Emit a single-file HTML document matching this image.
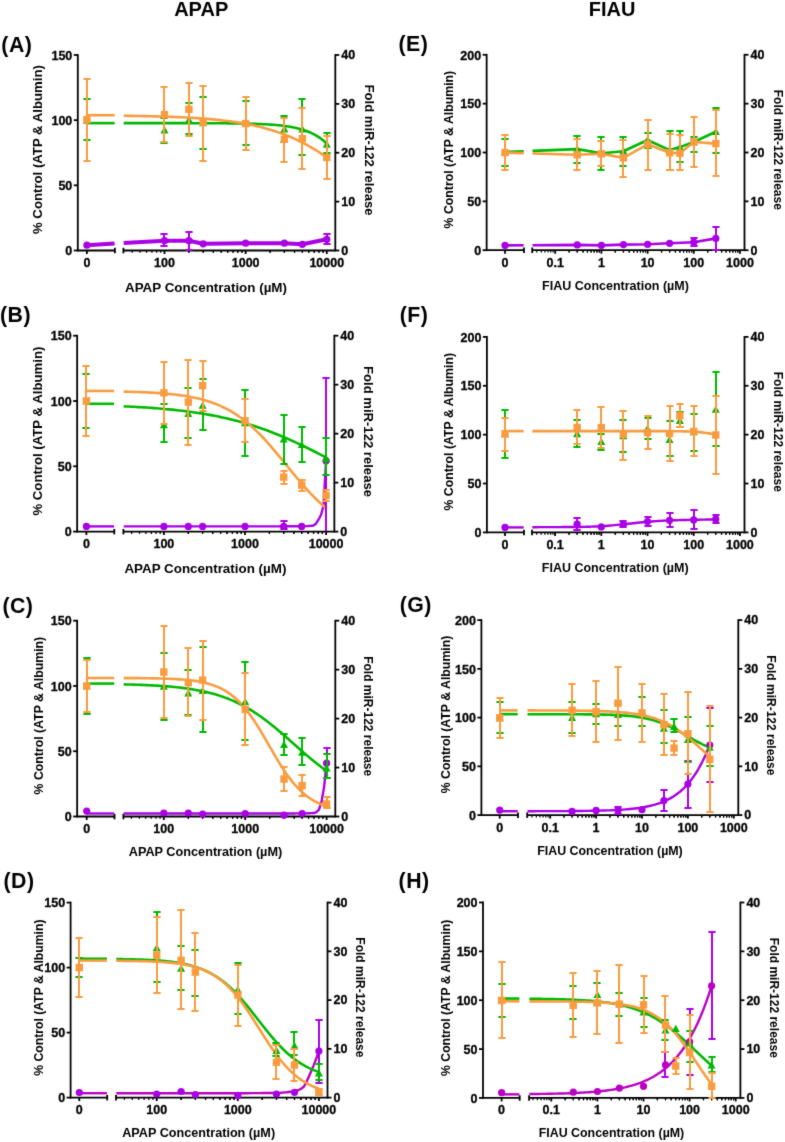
<!DOCTYPE html>
<html><head><meta charset="utf-8"><style>
html,body{margin:0;padding:0;background:#fff;}
body{width:785px;height:1142px;overflow:hidden;}
svg{display:block;}
text{font-family:"Liberation Sans",sans-serif;font-weight:bold;fill:#000;}
.t{stroke:#000;stroke-width:0.3px;}
svg{will-change:transform;}
.t{font-size:12.5px;}
.yl{font-size:13px;}
.xl{font-size:13.4px;}
.pl{font-size:21.3px;letter-spacing:0.5px;}
.ti{font-size:20px;}
</style></head><body>
<svg width="785" height="1142" viewBox="0 0 785 1142">
<defs><filter id="bl" x="0" y="0" width="785" height="1142" filterUnits="userSpaceOnUse" color-interpolation-filters="sRGB"><feConvolveMatrix order="3" kernelMatrix="0.03 0.12 0.03 0.12 1 0.12 0.03 0.12 0.03" edgeMode="duplicate" preserveAlpha="true"/></filter></defs>
<g filter="url(#bl)">
<rect width="785" height="1142" fill="#fff"/>
<text x="201.2" y="15.9" text-anchor="middle" class="ti">APAP</text>
<text x="612.1" y="16" text-anchor="middle" class="ti">FIAU</text>
<line x1="77.8" y1="54.1" x2="77.8" y2="251.4" stroke="#000" stroke-width="1.8"/>
<line x1="335.3" y1="54.1" x2="335.3" y2="251.4" stroke="#000" stroke-width="1.8"/>
<line x1="73.8" y1="250.5" x2="77.8" y2="250.5" stroke="#000" stroke-width="1.8"/>
<text x="72.3" y="255.2" text-anchor="end" class="t">0</text>
<line x1="73.8" y1="185.33" x2="77.8" y2="185.33" stroke="#000" stroke-width="1.8"/>
<text x="72.3" y="190.03" text-anchor="end" class="t">50</text>
<line x1="73.8" y1="120.17" x2="77.8" y2="120.17" stroke="#000" stroke-width="1.8"/>
<text x="72.3" y="124.87" text-anchor="end" class="t">100</text>
<line x1="73.8" y1="55" x2="77.8" y2="55" stroke="#000" stroke-width="1.8"/>
<text x="72.3" y="59.7" text-anchor="end" class="t">150</text>
<line x1="335.3" y1="250.5" x2="339.3" y2="250.5" stroke="#000" stroke-width="1.8"/>
<text x="341.3" y="254.8" class="t">0</text>
<line x1="335.3" y1="201.62" x2="339.3" y2="201.62" stroke="#000" stroke-width="1.8"/>
<text x="341.3" y="205.93" class="t">10</text>
<line x1="335.3" y1="152.75" x2="339.3" y2="152.75" stroke="#000" stroke-width="1.8"/>
<text x="341.3" y="157.05" class="t">20</text>
<line x1="335.3" y1="103.88" x2="339.3" y2="103.88" stroke="#000" stroke-width="1.8"/>
<text x="341.3" y="108.17" class="t">30</text>
<line x1="335.3" y1="55" x2="339.3" y2="55" stroke="#000" stroke-width="1.8"/>
<text x="341.3" y="59.3" class="t">40</text>
<line x1="77.8" y1="250.5" x2="114.9" y2="250.5" stroke="#000" stroke-width="1.8"/>
<line x1="114.9" y1="247.8" x2="114.9" y2="253.3" stroke="#000" stroke-width="1.8"/>
<line x1="86.9" y1="250.5" x2="86.9" y2="254" stroke="#000" stroke-width="1.8"/>
<text x="86.9" y="267" text-anchor="middle" class="t">0</text>
<line x1="123.4" y1="250.5" x2="335.3" y2="250.5" stroke="#000" stroke-width="1.8"/>
<line x1="123.4" y1="247.8" x2="123.4" y2="253.3" stroke="#000" stroke-width="1.8"/>
<line x1="164.5" y1="250.5" x2="164.5" y2="254" stroke="#000" stroke-width="1.8"/>
<text x="164.5" y="267" text-anchor="middle" class="t">100</text>
<line x1="188.93" y1="250.5" x2="188.93" y2="252.8" stroke="#000" stroke-width="1.2"/>
<line x1="203.22" y1="250.5" x2="203.22" y2="252.8" stroke="#000" stroke-width="1.2"/>
<line x1="132.21" y1="250.5" x2="132.21" y2="252.8" stroke="#000" stroke-width="1.2"/>
<line x1="213.36" y1="250.5" x2="213.36" y2="252.8" stroke="#000" stroke-width="1.2"/>
<line x1="140.07" y1="250.5" x2="140.07" y2="252.8" stroke="#000" stroke-width="1.2"/>
<line x1="221.22" y1="250.5" x2="221.22" y2="252.8" stroke="#000" stroke-width="1.2"/>
<line x1="146.5" y1="250.5" x2="146.5" y2="252.8" stroke="#000" stroke-width="1.2"/>
<line x1="227.65" y1="250.5" x2="227.65" y2="252.8" stroke="#000" stroke-width="1.2"/>
<line x1="151.93" y1="250.5" x2="151.93" y2="252.8" stroke="#000" stroke-width="1.2"/>
<line x1="233.08" y1="250.5" x2="233.08" y2="252.8" stroke="#000" stroke-width="1.2"/>
<line x1="156.64" y1="250.5" x2="156.64" y2="252.8" stroke="#000" stroke-width="1.2"/>
<line x1="237.79" y1="250.5" x2="237.79" y2="252.8" stroke="#000" stroke-width="1.2"/>
<line x1="160.79" y1="250.5" x2="160.79" y2="252.8" stroke="#000" stroke-width="1.2"/>
<line x1="241.94" y1="250.5" x2="241.94" y2="252.8" stroke="#000" stroke-width="1.2"/>
<line x1="245.65" y1="250.5" x2="245.65" y2="254" stroke="#000" stroke-width="1.8"/>
<text x="245.65" y="267" text-anchor="middle" class="t">1000</text>
<line x1="188.93" y1="250.5" x2="188.93" y2="252.8" stroke="#000" stroke-width="1.2"/>
<line x1="270.08" y1="250.5" x2="270.08" y2="252.8" stroke="#000" stroke-width="1.2"/>
<line x1="203.22" y1="250.5" x2="203.22" y2="252.8" stroke="#000" stroke-width="1.2"/>
<line x1="284.37" y1="250.5" x2="284.37" y2="252.8" stroke="#000" stroke-width="1.2"/>
<line x1="213.36" y1="250.5" x2="213.36" y2="252.8" stroke="#000" stroke-width="1.2"/>
<line x1="294.51" y1="250.5" x2="294.51" y2="252.8" stroke="#000" stroke-width="1.2"/>
<line x1="221.22" y1="250.5" x2="221.22" y2="252.8" stroke="#000" stroke-width="1.2"/>
<line x1="302.37" y1="250.5" x2="302.37" y2="252.8" stroke="#000" stroke-width="1.2"/>
<line x1="227.65" y1="250.5" x2="227.65" y2="252.8" stroke="#000" stroke-width="1.2"/>
<line x1="308.8" y1="250.5" x2="308.8" y2="252.8" stroke="#000" stroke-width="1.2"/>
<line x1="233.08" y1="250.5" x2="233.08" y2="252.8" stroke="#000" stroke-width="1.2"/>
<line x1="314.23" y1="250.5" x2="314.23" y2="252.8" stroke="#000" stroke-width="1.2"/>
<line x1="237.79" y1="250.5" x2="237.79" y2="252.8" stroke="#000" stroke-width="1.2"/>
<line x1="318.94" y1="250.5" x2="318.94" y2="252.8" stroke="#000" stroke-width="1.2"/>
<line x1="241.94" y1="250.5" x2="241.94" y2="252.8" stroke="#000" stroke-width="1.2"/>
<line x1="323.09" y1="250.5" x2="323.09" y2="252.8" stroke="#000" stroke-width="1.2"/>
<line x1="326.8" y1="250.5" x2="326.8" y2="254" stroke="#000" stroke-width="1.8"/>
<text x="326.8" y="267" text-anchor="middle" class="t">10000</text>
<line x1="270.08" y1="250.5" x2="270.08" y2="252.8" stroke="#000" stroke-width="1.2"/>
<line x1="284.37" y1="250.5" x2="284.37" y2="252.8" stroke="#000" stroke-width="1.2"/>
<line x1="294.51" y1="250.5" x2="294.51" y2="252.8" stroke="#000" stroke-width="1.2"/>
<line x1="302.37" y1="250.5" x2="302.37" y2="252.8" stroke="#000" stroke-width="1.2"/>
<line x1="308.8" y1="250.5" x2="308.8" y2="252.8" stroke="#000" stroke-width="1.2"/>
<line x1="314.23" y1="250.5" x2="314.23" y2="252.8" stroke="#000" stroke-width="1.2"/>
<line x1="318.94" y1="250.5" x2="318.94" y2="252.8" stroke="#000" stroke-width="1.2"/>
<line x1="323.09" y1="250.5" x2="323.09" y2="252.8" stroke="#000" stroke-width="1.2"/>
<text transform="translate(42.1,149.55) rotate(-90)" text-anchor="middle" style="font-size:13.2px">% Control (ATP &amp; Albumin)</text>
<text transform="translate(365.4,150.05) rotate(90)" text-anchor="middle" style="font-size:13.1px">Fold miR-122 release</text>
<text x="206" y="291.7" text-anchor="middle" style="font-size:13.4px">APAP Concentration (µM)</text>
<text x="1.3" y="51.5" class="pl">(A)</text>
<path d="M86.9 245.2L114.6 243.59" fill="none" stroke="#a900e6" stroke-width="4" stroke-linejoin="round"/>
<path d="M123.7 243.07L164.5 240.7L188.93 240.7L203.22 243.8L245.65 243.2L284.37 243.2L302.37 244.3L326.8 239.3" fill="none" stroke="#a900e6" stroke-width="4" stroke-linejoin="round"/>
<path d="M86.9 123.14L114.6 123.14" fill="none" stroke="#00b800" stroke-width="2.6"/>
<path d="M123.7 123.14L126.24 123.14L128.78 123.14L131.32 123.14L133.86 123.14L136.39 123.14L138.93 123.14L141.47 123.14L144.01 123.14L146.55 123.14L149.09 123.15L151.63 123.15L154.17 123.15L156.7 123.15L159.24 123.15L161.78 123.15L164.32 123.15L166.86 123.15L169.4 123.15L171.94 123.15L174.48 123.16L177.01 123.16L179.55 123.16L182.09 123.16L184.63 123.17L187.17 123.17L189.71 123.17L192.25 123.18L194.79 123.18L197.32 123.19L199.86 123.19L202.4 123.2L204.94 123.21L207.48 123.22L210.02 123.23L212.56 123.24L215.1 123.25L217.63 123.26L220.17 123.28L222.71 123.3L225.25 123.32L227.79 123.34L230.33 123.36L232.87 123.39L235.41 123.42L237.94 123.46L240.48 123.5L243.02 123.54L245.56 123.59L248.1 123.65L250.64 123.72L253.18 123.79L255.72 123.87L258.25 123.96L260.79 124.07L263.33 124.18L265.87 124.31L268.41 124.46L270.95 124.63L273.49 124.82L276.03 125.03L278.56 125.27L281.1 125.54L283.64 125.84L286.18 126.18L288.72 126.57L291.26 127L293.8 127.49L296.34 128.04L298.87 128.65L301.41 129.35L303.95 130.14L306.49 131.02L309.03 132.01L311.57 133.13L314.11 134.4L316.65 135.82L319.18 137.42L321.72 139.22L324.26 141.26L326.8 143.54" fill="none" stroke="#00b800" stroke-width="2.6" stroke-linejoin="round"/>
<path d="M86.9 115.21L114.6 115.21" fill="none" stroke="#f99c40" stroke-width="2.6"/>
<path d="M123.7 115.77L126.24 115.8L128.78 115.84L131.32 115.88L133.86 115.92L136.39 115.96L138.93 116L141.47 116.05L144.01 116.1L146.55 116.15L149.09 116.21L151.63 116.27L154.17 116.33L156.7 116.39L159.24 116.46L161.78 116.54L164.32 116.62L166.86 116.7L169.4 116.79L171.94 116.88L174.48 116.98L177.01 117.08L179.55 117.19L182.09 117.31L184.63 117.44L187.17 117.57L189.71 117.7L192.25 117.85L194.79 118.01L197.32 118.17L199.86 118.34L202.4 118.53L204.94 118.72L207.48 118.92L210.02 119.14L212.56 119.37L215.1 119.61L217.63 119.86L220.17 120.13L222.71 120.42L225.25 120.72L227.79 121.03L230.33 121.37L232.87 121.72L235.41 122.09L237.94 122.48L240.48 122.9L243.02 123.33L245.56 123.79L248.1 124.27L250.64 124.78L253.18 125.31L255.72 125.88L258.25 126.47L260.79 127.09L263.33 127.74L265.87 128.42L268.41 129.14L270.95 129.89L273.49 130.68L276.03 131.5L278.56 132.37L281.1 133.27L283.64 134.22L286.18 135.2L288.72 136.23L291.26 137.3L293.8 138.42L296.34 139.59L298.87 140.8L301.41 142.06L303.95 143.36L306.49 144.72L309.03 146.12L311.57 147.58L314.11 149.08L316.65 150.63L319.18 152.23L321.72 153.88L324.26 155.57L326.8 157.31" fill="none" stroke="#f99c40" stroke-width="2.6" stroke-linejoin="round"/>
<line x1="164" y1="234" x2="164" y2="246" stroke="#a900e6" stroke-width="2"/><line x1="160.4" y1="234" x2="167.6" y2="234" stroke="#a900e6" stroke-width="2"/><line x1="160.4" y1="246" x2="167.6" y2="246" stroke="#a900e6" stroke-width="2"/>
<line x1="189" y1="232" x2="189" y2="250" stroke="#a900e6" stroke-width="2"/><line x1="185.4" y1="232" x2="192.6" y2="232" stroke="#a900e6" stroke-width="2"/><line x1="185.4" y1="250" x2="192.6" y2="250" stroke="#a900e6" stroke-width="2"/>
<line x1="327" y1="234" x2="327" y2="244" stroke="#a900e6" stroke-width="2"/><line x1="323.4" y1="234" x2="330.6" y2="234" stroke="#a900e6" stroke-width="2"/><line x1="323.4" y1="244" x2="330.6" y2="244" stroke="#a900e6" stroke-width="2"/>
<circle cx="86.9" cy="245.2" r="3.6" fill="#a900e6"/>
<circle cx="164.5" cy="240.7" r="3.6" fill="#a900e6"/>
<circle cx="188.93" cy="240.7" r="3.6" fill="#a900e6"/>
<circle cx="203.22" cy="243.8" r="3.6" fill="#a900e6"/>
<circle cx="245.65" cy="243.2" r="3.6" fill="#a900e6"/>
<circle cx="284.37" cy="243.2" r="3.6" fill="#a900e6"/>
<circle cx="302.37" cy="244.3" r="3.6" fill="#a900e6"/>
<circle cx="326.8" cy="239.3" r="3.6" fill="#a900e6"/>
<line x1="87" y1="99" x2="87" y2="140" stroke="#00b800" stroke-width="2"/><line x1="83.4" y1="99" x2="90.6" y2="99" stroke="#00b800" stroke-width="2"/><line x1="83.4" y1="140" x2="90.6" y2="140" stroke="#00b800" stroke-width="2"/>
<line x1="164" y1="118" x2="164" y2="143" stroke="#00b800" stroke-width="2"/><line x1="160.4" y1="118" x2="167.6" y2="118" stroke="#00b800" stroke-width="2"/><line x1="160.4" y1="143" x2="167.6" y2="143" stroke="#00b800" stroke-width="2"/>
<line x1="189" y1="103" x2="189" y2="134" stroke="#00b800" stroke-width="2"/><line x1="185.4" y1="103" x2="192.6" y2="103" stroke="#00b800" stroke-width="2"/><line x1="185.4" y1="134" x2="192.6" y2="134" stroke="#00b800" stroke-width="2"/>
<line x1="203" y1="97" x2="203" y2="149" stroke="#00b800" stroke-width="2"/><line x1="199.4" y1="97" x2="206.6" y2="97" stroke="#00b800" stroke-width="2"/><line x1="199.4" y1="149" x2="206.6" y2="149" stroke="#00b800" stroke-width="2"/>
<line x1="246" y1="101" x2="246" y2="145" stroke="#00b800" stroke-width="2"/><line x1="242.4" y1="101" x2="249.6" y2="101" stroke="#00b800" stroke-width="2"/><line x1="242.4" y1="145" x2="249.6" y2="145" stroke="#00b800" stroke-width="2"/>
<line x1="284" y1="116" x2="284" y2="142" stroke="#00b800" stroke-width="2"/><line x1="280.4" y1="116" x2="287.6" y2="116" stroke="#00b800" stroke-width="2"/><line x1="280.4" y1="142" x2="287.6" y2="142" stroke="#00b800" stroke-width="2"/>
<line x1="302" y1="99" x2="302" y2="155" stroke="#00b800" stroke-width="2"/><line x1="298.4" y1="99" x2="305.6" y2="99" stroke="#00b800" stroke-width="2"/><line x1="298.4" y1="155" x2="305.6" y2="155" stroke="#00b800" stroke-width="2"/>
<line x1="327" y1="133" x2="327" y2="153" stroke="#00b800" stroke-width="2"/><line x1="323.4" y1="133" x2="330.6" y2="133" stroke="#00b800" stroke-width="2"/><line x1="323.4" y1="153" x2="330.6" y2="153" stroke="#00b800" stroke-width="2"/>
<path d="M86.9 116.3L90.9 123.7L82.9 123.7Z" fill="#00b800"/>
<path d="M164.5 126.1L168.5 133.5L160.5 133.5Z" fill="#00b800"/>
<path d="M188.93 115.9L192.93 123.3L184.93 123.3Z" fill="#00b800"/>
<path d="M203.22 118.8L207.22 126.2L199.22 126.2Z" fill="#00b800"/>
<path d="M245.65 118.8L249.65 126.2L241.65 126.2Z" fill="#00b800"/>
<path d="M284.37 125.1L288.37 132.5L280.37 132.5Z" fill="#00b800"/>
<path d="M302.37 125.1L306.37 132.5L298.37 132.5Z" fill="#00b800"/>
<path d="M326.8 140.3L330.8 147.7L322.8 147.7Z" fill="#00b800"/>
<line x1="87" y1="79" x2="87" y2="161" stroke="#f99c40" stroke-width="2"/><line x1="83.4" y1="79" x2="90.6" y2="79" stroke="#f99c40" stroke-width="2"/><line x1="83.4" y1="161" x2="90.6" y2="161" stroke="#f99c40" stroke-width="2"/>
<line x1="164" y1="87" x2="164" y2="142" stroke="#f99c40" stroke-width="2"/><line x1="160.4" y1="87" x2="167.6" y2="87" stroke="#f99c40" stroke-width="2"/><line x1="160.4" y1="142" x2="167.6" y2="142" stroke="#f99c40" stroke-width="2"/>
<line x1="189" y1="83" x2="189" y2="136" stroke="#f99c40" stroke-width="2"/><line x1="185.4" y1="83" x2="192.6" y2="83" stroke="#f99c40" stroke-width="2"/><line x1="185.4" y1="136" x2="192.6" y2="136" stroke="#f99c40" stroke-width="2"/>
<line x1="203" y1="86" x2="203" y2="161" stroke="#f99c40" stroke-width="2"/><line x1="199.4" y1="86" x2="206.6" y2="86" stroke="#f99c40" stroke-width="2"/><line x1="199.4" y1="161" x2="206.6" y2="161" stroke="#f99c40" stroke-width="2"/>
<line x1="246" y1="97" x2="246" y2="150" stroke="#f99c40" stroke-width="2"/><line x1="242.4" y1="97" x2="249.6" y2="97" stroke="#f99c40" stroke-width="2"/><line x1="242.4" y1="150" x2="249.6" y2="150" stroke="#f99c40" stroke-width="2"/>
<line x1="284" y1="118" x2="284" y2="162" stroke="#f99c40" stroke-width="2"/><line x1="280.4" y1="118" x2="287.6" y2="118" stroke="#f99c40" stroke-width="2"/><line x1="280.4" y1="162" x2="287.6" y2="162" stroke="#f99c40" stroke-width="2"/>
<line x1="302" y1="108" x2="302" y2="169" stroke="#f99c40" stroke-width="2"/><line x1="298.4" y1="108" x2="305.6" y2="108" stroke="#f99c40" stroke-width="2"/><line x1="298.4" y1="169" x2="305.6" y2="169" stroke="#f99c40" stroke-width="2"/>
<line x1="327" y1="136" x2="327" y2="179" stroke="#f99c40" stroke-width="2"/><line x1="323.4" y1="136" x2="330.6" y2="136" stroke="#f99c40" stroke-width="2"/><line x1="323.4" y1="179" x2="330.6" y2="179" stroke="#f99c40" stroke-width="2"/>
<rect x="83.2" y="116" width="7.4" height="7.4" fill="#f99c40"/>
<rect x="160.8" y="110.9" width="7.4" height="7.4" fill="#f99c40"/>
<rect x="185.23" y="105.6" width="7.4" height="7.4" fill="#f99c40"/>
<rect x="199.52" y="118.5" width="7.4" height="7.4" fill="#f99c40"/>
<rect x="241.95" y="119.9" width="7.4" height="7.4" fill="#f99c40"/>
<rect x="280.67" y="135.6" width="7.4" height="7.4" fill="#f99c40"/>
<rect x="298.67" y="135" width="7.4" height="7.4" fill="#f99c40"/>
<rect x="323.1" y="153.8" width="7.4" height="7.4" fill="#f99c40"/>
<line x1="77.15" y1="334.8" x2="77.15" y2="532.5" stroke="#000" stroke-width="1.8"/>
<line x1="334.35" y1="334.8" x2="334.35" y2="532.5" stroke="#000" stroke-width="1.8"/>
<line x1="73.15" y1="531.6" x2="77.15" y2="531.6" stroke="#000" stroke-width="1.8"/>
<text x="71.65" y="536.3" text-anchor="end" class="t">0</text>
<line x1="73.15" y1="466.3" x2="77.15" y2="466.3" stroke="#000" stroke-width="1.8"/>
<text x="71.65" y="471" text-anchor="end" class="t">50</text>
<line x1="73.15" y1="401" x2="77.15" y2="401" stroke="#000" stroke-width="1.8"/>
<text x="71.65" y="405.7" text-anchor="end" class="t">100</text>
<line x1="73.15" y1="335.7" x2="77.15" y2="335.7" stroke="#000" stroke-width="1.8"/>
<text x="71.65" y="340.4" text-anchor="end" class="t">150</text>
<line x1="334.35" y1="531.6" x2="338.35" y2="531.6" stroke="#000" stroke-width="1.8"/>
<text x="340.35" y="535.9" class="t">0</text>
<line x1="334.35" y1="482.62" x2="338.35" y2="482.62" stroke="#000" stroke-width="1.8"/>
<text x="340.35" y="486.93" class="t">10</text>
<line x1="334.35" y1="433.65" x2="338.35" y2="433.65" stroke="#000" stroke-width="1.8"/>
<text x="340.35" y="437.95" class="t">20</text>
<line x1="334.35" y1="384.68" x2="338.35" y2="384.68" stroke="#000" stroke-width="1.8"/>
<text x="340.35" y="388.98" class="t">30</text>
<line x1="334.35" y1="335.7" x2="338.35" y2="335.7" stroke="#000" stroke-width="1.8"/>
<text x="340.35" y="340" class="t">40</text>
<line x1="77.15" y1="531.6" x2="114.3" y2="531.6" stroke="#000" stroke-width="1.8"/>
<line x1="114.3" y1="528.9" x2="114.3" y2="534.4" stroke="#000" stroke-width="1.8"/>
<line x1="86.4" y1="531.6" x2="86.4" y2="535.1" stroke="#000" stroke-width="1.8"/>
<text x="86.4" y="548.1" text-anchor="middle" class="t">0</text>
<line x1="123.4" y1="531.6" x2="334.35" y2="531.6" stroke="#000" stroke-width="1.8"/>
<line x1="123.4" y1="528.9" x2="123.4" y2="534.4" stroke="#000" stroke-width="1.8"/>
<line x1="163.9" y1="531.6" x2="163.9" y2="535.1" stroke="#000" stroke-width="1.8"/>
<text x="163.9" y="548.1" text-anchor="middle" class="t">100</text>
<line x1="188.31" y1="531.6" x2="188.31" y2="533.9" stroke="#000" stroke-width="1.2"/>
<line x1="202.59" y1="531.6" x2="202.59" y2="533.9" stroke="#000" stroke-width="1.2"/>
<line x1="131.63" y1="531.6" x2="131.63" y2="533.9" stroke="#000" stroke-width="1.2"/>
<line x1="212.73" y1="531.6" x2="212.73" y2="533.9" stroke="#000" stroke-width="1.2"/>
<line x1="139.49" y1="531.6" x2="139.49" y2="533.9" stroke="#000" stroke-width="1.2"/>
<line x1="220.59" y1="531.6" x2="220.59" y2="533.9" stroke="#000" stroke-width="1.2"/>
<line x1="145.91" y1="531.6" x2="145.91" y2="533.9" stroke="#000" stroke-width="1.2"/>
<line x1="227.01" y1="531.6" x2="227.01" y2="533.9" stroke="#000" stroke-width="1.2"/>
<line x1="151.34" y1="531.6" x2="151.34" y2="533.9" stroke="#000" stroke-width="1.2"/>
<line x1="232.44" y1="531.6" x2="232.44" y2="533.9" stroke="#000" stroke-width="1.2"/>
<line x1="156.04" y1="531.6" x2="156.04" y2="533.9" stroke="#000" stroke-width="1.2"/>
<line x1="237.14" y1="531.6" x2="237.14" y2="533.9" stroke="#000" stroke-width="1.2"/>
<line x1="160.19" y1="531.6" x2="160.19" y2="533.9" stroke="#000" stroke-width="1.2"/>
<line x1="241.29" y1="531.6" x2="241.29" y2="533.9" stroke="#000" stroke-width="1.2"/>
<line x1="245" y1="531.6" x2="245" y2="535.1" stroke="#000" stroke-width="1.8"/>
<text x="245" y="548.1" text-anchor="middle" class="t">1000</text>
<line x1="188.31" y1="531.6" x2="188.31" y2="533.9" stroke="#000" stroke-width="1.2"/>
<line x1="269.41" y1="531.6" x2="269.41" y2="533.9" stroke="#000" stroke-width="1.2"/>
<line x1="202.59" y1="531.6" x2="202.59" y2="533.9" stroke="#000" stroke-width="1.2"/>
<line x1="283.69" y1="531.6" x2="283.69" y2="533.9" stroke="#000" stroke-width="1.2"/>
<line x1="212.73" y1="531.6" x2="212.73" y2="533.9" stroke="#000" stroke-width="1.2"/>
<line x1="293.83" y1="531.6" x2="293.83" y2="533.9" stroke="#000" stroke-width="1.2"/>
<line x1="220.59" y1="531.6" x2="220.59" y2="533.9" stroke="#000" stroke-width="1.2"/>
<line x1="301.69" y1="531.6" x2="301.69" y2="533.9" stroke="#000" stroke-width="1.2"/>
<line x1="227.01" y1="531.6" x2="227.01" y2="533.9" stroke="#000" stroke-width="1.2"/>
<line x1="308.11" y1="531.6" x2="308.11" y2="533.9" stroke="#000" stroke-width="1.2"/>
<line x1="232.44" y1="531.6" x2="232.44" y2="533.9" stroke="#000" stroke-width="1.2"/>
<line x1="313.54" y1="531.6" x2="313.54" y2="533.9" stroke="#000" stroke-width="1.2"/>
<line x1="237.14" y1="531.6" x2="237.14" y2="533.9" stroke="#000" stroke-width="1.2"/>
<line x1="318.24" y1="531.6" x2="318.24" y2="533.9" stroke="#000" stroke-width="1.2"/>
<line x1="241.29" y1="531.6" x2="241.29" y2="533.9" stroke="#000" stroke-width="1.2"/>
<line x1="322.39" y1="531.6" x2="322.39" y2="533.9" stroke="#000" stroke-width="1.2"/>
<line x1="326.1" y1="531.6" x2="326.1" y2="535.1" stroke="#000" stroke-width="1.8"/>
<text x="326.1" y="548.1" text-anchor="middle" class="t">10000</text>
<line x1="269.41" y1="531.6" x2="269.41" y2="533.9" stroke="#000" stroke-width="1.2"/>
<line x1="283.69" y1="531.6" x2="283.69" y2="533.9" stroke="#000" stroke-width="1.2"/>
<line x1="293.83" y1="531.6" x2="293.83" y2="533.9" stroke="#000" stroke-width="1.2"/>
<line x1="301.69" y1="531.6" x2="301.69" y2="533.9" stroke="#000" stroke-width="1.2"/>
<line x1="308.11" y1="531.6" x2="308.11" y2="533.9" stroke="#000" stroke-width="1.2"/>
<line x1="313.54" y1="531.6" x2="313.54" y2="533.9" stroke="#000" stroke-width="1.2"/>
<line x1="318.24" y1="531.6" x2="318.24" y2="533.9" stroke="#000" stroke-width="1.2"/>
<line x1="322.39" y1="531.6" x2="322.39" y2="533.9" stroke="#000" stroke-width="1.2"/>
<text transform="translate(41.6,431.1) rotate(-90)" text-anchor="middle" style="font-size:13.2px">% Control (ATP &amp; Albumin)</text>
<text transform="translate(364,431.5) rotate(90)" text-anchor="middle" style="font-size:13.1px">Fold miR-122 release</text>
<text x="205.4" y="573.1" text-anchor="middle" style="font-size:13.4px">APAP Concentration (µM)</text>
<text x="-0.1" y="321.9" class="pl">(B)</text>
<path d="M86.4 526.4L114 526.4" fill="none" stroke="#a900e6" stroke-width="2.4"/>
<path d="M123.7 526.4L126.23 526.4L128.76 526.4L131.29 526.4L133.82 526.4L136.35 526.4L138.88 526.4L141.41 526.4L143.94 526.4L146.47 526.4L149 526.4L151.53 526.4L154.06 526.4L156.59 526.4L159.12 526.4L161.65 526.4L164.18 526.4L166.71 526.4L169.24 526.4L171.77 526.4L174.3 526.4L176.83 526.4L179.36 526.4L181.89 526.4L184.42 526.4L186.95 526.4L189.48 526.4L192.01 526.4L194.54 526.4L197.07 526.4L199.6 526.4L202.13 526.4L204.66 526.4L207.19 526.4L209.72 526.4L212.25 526.4L214.78 526.4L217.31 526.4L219.84 526.4L222.37 526.4L224.9 526.4L227.43 526.4L229.96 526.4L232.49 526.4L235.02 526.4L237.55 526.4L240.08 526.4L242.61 526.4L245.14 526.4L247.67 526.4L250.2 526.4L252.73 526.4L255.26 526.4L257.79 526.39L260.32 526.39L262.85 526.38L265.38 526.38L267.91 526.37L270.44 526.37L272.97 526.36L275.5 526.35L278.03 526.34L280.56 526.33L283.09 526.32L285.62 526.31L288.15 526.29L290.68 526.28L293.21 526.26L295.74 526.25L298.27 526.23L300.8 526.21L303.33 526.18L305.86 526.11L308.39 525.98L310.92 525.78L313.45 525.51L315.98 523.7L318.51 519.69L321.04 514.78L323.57 505.45L326.1 460.8" fill="none" stroke="#a900e6" stroke-width="2.4" stroke-linejoin="round"/>
<path d="M86.4 403.81L114 403.81" fill="none" stroke="#00b800" stroke-width="2.6"/>
<path d="M123.7 406.33L126.23 406.44L128.76 406.56L131.29 406.69L133.82 406.82L136.35 406.96L138.88 407.1L141.41 407.25L143.94 407.41L146.47 407.57L149 407.74L151.53 407.92L154.06 408.11L156.59 408.3L159.12 408.5L161.65 408.72L164.18 408.94L166.71 409.17L169.24 409.4L171.77 409.65L174.3 409.91L176.83 410.19L179.36 410.47L181.89 410.76L184.42 411.07L186.95 411.39L189.48 411.72L192.01 412.06L194.54 412.42L197.07 412.79L199.6 413.18L202.13 413.59L204.66 414L207.19 414.44L209.72 414.89L212.25 415.36L214.78 415.84L217.31 416.35L219.84 416.87L222.37 417.41L224.9 417.97L227.43 418.55L229.96 419.15L232.49 419.77L235.02 420.41L237.55 421.07L240.08 421.75L242.61 422.46L245.14 423.19L247.67 423.94L250.2 424.71L252.73 425.5L255.26 426.32L257.79 427.16L260.32 428.03L262.85 428.91L265.38 429.82L267.91 430.76L270.44 431.71L272.97 432.69L275.5 433.69L278.03 434.71L280.56 435.76L283.09 436.82L285.62 437.91L288.15 439.01L290.68 440.14L293.21 441.28L295.74 442.44L298.27 443.62L300.8 444.82L303.33 446.03L305.86 447.25L308.39 448.49L310.92 449.74L313.45 451L315.98 452.27L318.51 453.55L321.04 454.84L323.57 456.13L326.1 457.43" fill="none" stroke="#00b800" stroke-width="2.6" stroke-linejoin="round"/>
<path d="M86.4 390.94L114 390.94" fill="none" stroke="#f99c40" stroke-width="2.6"/>
<path d="M123.7 391.62L126.23 391.67L128.76 391.74L131.29 391.81L133.82 391.88L136.35 391.96L138.88 392.05L141.41 392.15L143.94 392.25L146.47 392.37L149 392.49L151.53 392.63L154.06 392.77L156.59 392.93L159.12 393.1L161.65 393.29L164.18 393.49L166.71 393.71L169.24 393.94L171.77 394.2L174.3 394.48L176.83 394.78L179.36 395.1L181.89 395.45L184.42 395.84L186.95 396.25L189.48 396.69L192.01 397.17L194.54 397.69L197.07 398.25L199.6 398.86L202.13 399.51L204.66 400.21L207.19 400.97L209.72 401.78L212.25 402.65L214.78 403.58L217.31 404.59L219.84 405.66L222.37 406.81L224.9 408.03L227.43 409.34L229.96 410.73L232.49 412.21L235.02 413.78L237.55 415.45L240.08 417.21L242.61 419.07L245.14 421.03L247.67 423.09L250.2 425.25L252.73 427.51L255.26 429.87L257.79 432.32L260.32 434.87L262.85 437.5L265.38 440.22L267.91 443.02L270.44 445.89L272.97 448.82L275.5 451.81L278.03 454.84L280.56 457.91L283.09 461.01L285.62 464.12L288.15 467.24L290.68 470.35L293.21 473.45L295.74 476.51L298.27 479.54L300.8 482.52L303.33 485.45L305.86 488.31L308.39 491.1L310.92 493.81L313.45 496.43L315.98 498.97L318.51 501.41L321.04 503.76L323.57 506L326.1 508.15" fill="none" stroke="#f99c40" stroke-width="2.6" stroke-linejoin="round"/>
<line x1="284" y1="521" x2="284" y2="529" stroke="#a900e6" stroke-width="2"/><line x1="280.4" y1="521" x2="287.6" y2="521" stroke="#a900e6" stroke-width="2"/><line x1="280.4" y1="529" x2="287.6" y2="529" stroke="#a900e6" stroke-width="2"/>
<line x1="326" y1="378" x2="326" y2="531" stroke="#a900e6" stroke-width="2"/><line x1="322.4" y1="378" x2="329.6" y2="378" stroke="#a900e6" stroke-width="2"/>
<circle cx="86.4" cy="526.4" r="3.6" fill="#a900e6"/>
<circle cx="163.9" cy="526.4" r="3.6" fill="#a900e6"/>
<circle cx="188.31" cy="526.4" r="3.6" fill="#a900e6"/>
<circle cx="202.59" cy="526.4" r="3.6" fill="#a900e6"/>
<circle cx="245" cy="526.4" r="3.6" fill="#a900e6"/>
<circle cx="283.69" cy="526.4" r="3.6" fill="#a900e6"/>
<circle cx="301.69" cy="526.4" r="3.6" fill="#a900e6"/>
<circle cx="326.1" cy="460.8" r="3.6" fill="#a900e6"/>
<line x1="86" y1="374" x2="86" y2="428" stroke="#00b800" stroke-width="2"/><line x1="82.4" y1="374" x2="89.6" y2="374" stroke="#00b800" stroke-width="2"/><line x1="82.4" y1="428" x2="89.6" y2="428" stroke="#00b800" stroke-width="2"/>
<line x1="164" y1="404" x2="164" y2="442" stroke="#00b800" stroke-width="2"/><line x1="160.4" y1="404" x2="167.6" y2="404" stroke="#00b800" stroke-width="2"/><line x1="160.4" y1="442" x2="167.6" y2="442" stroke="#00b800" stroke-width="2"/>
<line x1="188" y1="388" x2="188" y2="438" stroke="#00b800" stroke-width="2"/><line x1="184.4" y1="388" x2="191.6" y2="388" stroke="#00b800" stroke-width="2"/><line x1="184.4" y1="438" x2="191.6" y2="438" stroke="#00b800" stroke-width="2"/>
<line x1="203" y1="379" x2="203" y2="430" stroke="#00b800" stroke-width="2"/><line x1="199.4" y1="379" x2="206.6" y2="379" stroke="#00b800" stroke-width="2"/><line x1="199.4" y1="430" x2="206.6" y2="430" stroke="#00b800" stroke-width="2"/>
<line x1="245" y1="390" x2="245" y2="456" stroke="#00b800" stroke-width="2"/><line x1="241.4" y1="390" x2="248.6" y2="390" stroke="#00b800" stroke-width="2"/><line x1="241.4" y1="456" x2="248.6" y2="456" stroke="#00b800" stroke-width="2"/>
<line x1="284" y1="415" x2="284" y2="464" stroke="#00b800" stroke-width="2"/><line x1="280.4" y1="415" x2="287.6" y2="415" stroke="#00b800" stroke-width="2"/><line x1="280.4" y1="464" x2="287.6" y2="464" stroke="#00b800" stroke-width="2"/>
<line x1="302" y1="427" x2="302" y2="462" stroke="#00b800" stroke-width="2"/><line x1="298.4" y1="427" x2="305.6" y2="427" stroke="#00b800" stroke-width="2"/><line x1="298.4" y1="462" x2="305.6" y2="462" stroke="#00b800" stroke-width="2"/>
<line x1="326" y1="438" x2="326" y2="475" stroke="#00b800" stroke-width="2"/><line x1="322.4" y1="438" x2="329.6" y2="438" stroke="#00b800" stroke-width="2"/><line x1="322.4" y1="475" x2="329.6" y2="475" stroke="#00b800" stroke-width="2"/>
<path d="M86.4 396.8L90.4 404.2L82.4 404.2Z" fill="#00b800"/>
<path d="M163.9 420.8L167.9 428.2L159.9 428.2Z" fill="#00b800"/>
<path d="M188.31 409.6L192.31 417L184.31 417Z" fill="#00b800"/>
<path d="M202.59 401.4L206.59 408.8L198.59 408.8Z" fill="#00b800"/>
<path d="M245 418.8L249 426.2L241 426.2Z" fill="#00b800"/>
<path d="M283.69 435.2L287.69 442.6L279.69 442.6Z" fill="#00b800"/>
<path d="M301.69 440.7L305.69 448.1L297.69 448.1Z" fill="#00b800"/>
<path d="M326.1 454.5L330.1 461.9L322.1 461.9Z" fill="#00b800"/>
<line x1="86" y1="366" x2="86" y2="436" stroke="#f99c40" stroke-width="2"/><line x1="82.4" y1="366" x2="89.6" y2="366" stroke="#f99c40" stroke-width="2"/><line x1="82.4" y1="436" x2="89.6" y2="436" stroke="#f99c40" stroke-width="2"/>
<line x1="164" y1="362" x2="164" y2="424" stroke="#f99c40" stroke-width="2"/><line x1="160.4" y1="362" x2="167.6" y2="362" stroke="#f99c40" stroke-width="2"/><line x1="160.4" y1="424" x2="167.6" y2="424" stroke="#f99c40" stroke-width="2"/>
<line x1="188" y1="360" x2="188" y2="445" stroke="#f99c40" stroke-width="2"/><line x1="184.4" y1="360" x2="191.6" y2="360" stroke="#f99c40" stroke-width="2"/><line x1="184.4" y1="445" x2="191.6" y2="445" stroke="#f99c40" stroke-width="2"/>
<line x1="203" y1="361" x2="203" y2="411" stroke="#f99c40" stroke-width="2"/><line x1="199.4" y1="361" x2="206.6" y2="361" stroke="#f99c40" stroke-width="2"/><line x1="199.4" y1="411" x2="206.6" y2="411" stroke="#f99c40" stroke-width="2"/>
<line x1="245" y1="399" x2="245" y2="442" stroke="#f99c40" stroke-width="2"/><line x1="241.4" y1="399" x2="248.6" y2="399" stroke="#f99c40" stroke-width="2"/><line x1="241.4" y1="442" x2="248.6" y2="442" stroke="#f99c40" stroke-width="2"/>
<line x1="284" y1="471" x2="284" y2="484" stroke="#f99c40" stroke-width="2"/><line x1="280.4" y1="471" x2="287.6" y2="471" stroke="#f99c40" stroke-width="2"/><line x1="280.4" y1="484" x2="287.6" y2="484" stroke="#f99c40" stroke-width="2"/>
<line x1="302" y1="480" x2="302" y2="491" stroke="#f99c40" stroke-width="2"/><line x1="298.4" y1="480" x2="305.6" y2="480" stroke="#f99c40" stroke-width="2"/><line x1="298.4" y1="491" x2="305.6" y2="491" stroke="#f99c40" stroke-width="2"/>
<line x1="326" y1="490" x2="326" y2="501" stroke="#f99c40" stroke-width="2"/><line x1="322.4" y1="490" x2="329.6" y2="490" stroke="#f99c40" stroke-width="2"/><line x1="322.4" y1="501" x2="329.6" y2="501" stroke="#f99c40" stroke-width="2"/>
<rect x="82.7" y="397.2" width="7.4" height="7.4" fill="#f99c40"/>
<rect x="160.2" y="389.1" width="7.4" height="7.4" fill="#f99c40"/>
<rect x="184.61" y="398.4" width="7.4" height="7.4" fill="#f99c40"/>
<rect x="198.89" y="381.9" width="7.4" height="7.4" fill="#f99c40"/>
<rect x="241.3" y="417.1" width="7.4" height="7.4" fill="#f99c40"/>
<rect x="279.99" y="473.4" width="7.4" height="7.4" fill="#f99c40"/>
<rect x="297.99" y="481.5" width="7.4" height="7.4" fill="#f99c40"/>
<rect x="322.4" y="491.7" width="7.4" height="7.4" fill="#f99c40"/>
<line x1="77.15" y1="619.8" x2="77.15" y2="817.4" stroke="#000" stroke-width="1.8"/>
<line x1="335.3" y1="619.8" x2="335.3" y2="817.4" stroke="#000" stroke-width="1.8"/>
<line x1="73.15" y1="816.5" x2="77.15" y2="816.5" stroke="#000" stroke-width="1.8"/>
<text x="71.65" y="821.2" text-anchor="end" class="t">0</text>
<line x1="73.15" y1="751.23" x2="77.15" y2="751.23" stroke="#000" stroke-width="1.8"/>
<text x="71.65" y="755.93" text-anchor="end" class="t">50</text>
<line x1="73.15" y1="685.97" x2="77.15" y2="685.97" stroke="#000" stroke-width="1.8"/>
<text x="71.65" y="690.67" text-anchor="end" class="t">100</text>
<line x1="73.15" y1="620.7" x2="77.15" y2="620.7" stroke="#000" stroke-width="1.8"/>
<text x="71.65" y="625.4" text-anchor="end" class="t">150</text>
<line x1="335.3" y1="816.5" x2="339.3" y2="816.5" stroke="#000" stroke-width="1.8"/>
<text x="341.3" y="820.8" class="t">0</text>
<line x1="335.3" y1="767.55" x2="339.3" y2="767.55" stroke="#000" stroke-width="1.8"/>
<text x="341.3" y="771.85" class="t">10</text>
<line x1="335.3" y1="718.6" x2="339.3" y2="718.6" stroke="#000" stroke-width="1.8"/>
<text x="341.3" y="722.9" class="t">20</text>
<line x1="335.3" y1="669.65" x2="339.3" y2="669.65" stroke="#000" stroke-width="1.8"/>
<text x="341.3" y="673.95" class="t">30</text>
<line x1="335.3" y1="620.7" x2="339.3" y2="620.7" stroke="#000" stroke-width="1.8"/>
<text x="341.3" y="625" class="t">40</text>
<line x1="77.15" y1="816.5" x2="114.5" y2="816.5" stroke="#000" stroke-width="1.8"/>
<line x1="114.5" y1="813.8" x2="114.5" y2="819.3" stroke="#000" stroke-width="1.8"/>
<line x1="86.7" y1="816.5" x2="86.7" y2="820" stroke="#000" stroke-width="1.8"/>
<text x="86.7" y="833" text-anchor="middle" class="t">0</text>
<line x1="123.4" y1="816.5" x2="335.3" y2="816.5" stroke="#000" stroke-width="1.8"/>
<line x1="123.4" y1="813.8" x2="123.4" y2="819.3" stroke="#000" stroke-width="1.8"/>
<line x1="163.8" y1="816.5" x2="163.8" y2="820" stroke="#000" stroke-width="1.8"/>
<text x="163.8" y="833" text-anchor="middle" class="t">100</text>
<line x1="188.3" y1="816.5" x2="188.3" y2="818.8" stroke="#000" stroke-width="1.2"/>
<line x1="202.64" y1="816.5" x2="202.64" y2="818.8" stroke="#000" stroke-width="1.2"/>
<line x1="131.41" y1="816.5" x2="131.41" y2="818.8" stroke="#000" stroke-width="1.2"/>
<line x1="212.81" y1="816.5" x2="212.81" y2="818.8" stroke="#000" stroke-width="1.2"/>
<line x1="139.3" y1="816.5" x2="139.3" y2="818.8" stroke="#000" stroke-width="1.2"/>
<line x1="220.7" y1="816.5" x2="220.7" y2="818.8" stroke="#000" stroke-width="1.2"/>
<line x1="145.74" y1="816.5" x2="145.74" y2="818.8" stroke="#000" stroke-width="1.2"/>
<line x1="227.14" y1="816.5" x2="227.14" y2="818.8" stroke="#000" stroke-width="1.2"/>
<line x1="151.19" y1="816.5" x2="151.19" y2="818.8" stroke="#000" stroke-width="1.2"/>
<line x1="232.59" y1="816.5" x2="232.59" y2="818.8" stroke="#000" stroke-width="1.2"/>
<line x1="155.91" y1="816.5" x2="155.91" y2="818.8" stroke="#000" stroke-width="1.2"/>
<line x1="237.31" y1="816.5" x2="237.31" y2="818.8" stroke="#000" stroke-width="1.2"/>
<line x1="160.08" y1="816.5" x2="160.08" y2="818.8" stroke="#000" stroke-width="1.2"/>
<line x1="241.48" y1="816.5" x2="241.48" y2="818.8" stroke="#000" stroke-width="1.2"/>
<line x1="245.2" y1="816.5" x2="245.2" y2="820" stroke="#000" stroke-width="1.8"/>
<text x="245.2" y="833" text-anchor="middle" class="t">1000</text>
<line x1="188.3" y1="816.5" x2="188.3" y2="818.8" stroke="#000" stroke-width="1.2"/>
<line x1="269.7" y1="816.5" x2="269.7" y2="818.8" stroke="#000" stroke-width="1.2"/>
<line x1="202.64" y1="816.5" x2="202.64" y2="818.8" stroke="#000" stroke-width="1.2"/>
<line x1="284.04" y1="816.5" x2="284.04" y2="818.8" stroke="#000" stroke-width="1.2"/>
<line x1="212.81" y1="816.5" x2="212.81" y2="818.8" stroke="#000" stroke-width="1.2"/>
<line x1="294.21" y1="816.5" x2="294.21" y2="818.8" stroke="#000" stroke-width="1.2"/>
<line x1="220.7" y1="816.5" x2="220.7" y2="818.8" stroke="#000" stroke-width="1.2"/>
<line x1="302.1" y1="816.5" x2="302.1" y2="818.8" stroke="#000" stroke-width="1.2"/>
<line x1="227.14" y1="816.5" x2="227.14" y2="818.8" stroke="#000" stroke-width="1.2"/>
<line x1="308.54" y1="816.5" x2="308.54" y2="818.8" stroke="#000" stroke-width="1.2"/>
<line x1="232.59" y1="816.5" x2="232.59" y2="818.8" stroke="#000" stroke-width="1.2"/>
<line x1="313.99" y1="816.5" x2="313.99" y2="818.8" stroke="#000" stroke-width="1.2"/>
<line x1="237.31" y1="816.5" x2="237.31" y2="818.8" stroke="#000" stroke-width="1.2"/>
<line x1="318.71" y1="816.5" x2="318.71" y2="818.8" stroke="#000" stroke-width="1.2"/>
<line x1="241.48" y1="816.5" x2="241.48" y2="818.8" stroke="#000" stroke-width="1.2"/>
<line x1="322.88" y1="816.5" x2="322.88" y2="818.8" stroke="#000" stroke-width="1.2"/>
<line x1="326.6" y1="816.5" x2="326.6" y2="820" stroke="#000" stroke-width="1.8"/>
<text x="326.6" y="833" text-anchor="middle" class="t">10000</text>
<line x1="269.7" y1="816.5" x2="269.7" y2="818.8" stroke="#000" stroke-width="1.2"/>
<line x1="284.04" y1="816.5" x2="284.04" y2="818.8" stroke="#000" stroke-width="1.2"/>
<line x1="294.21" y1="816.5" x2="294.21" y2="818.8" stroke="#000" stroke-width="1.2"/>
<line x1="302.1" y1="816.5" x2="302.1" y2="818.8" stroke="#000" stroke-width="1.2"/>
<line x1="308.54" y1="816.5" x2="308.54" y2="818.8" stroke="#000" stroke-width="1.2"/>
<line x1="313.99" y1="816.5" x2="313.99" y2="818.8" stroke="#000" stroke-width="1.2"/>
<line x1="318.71" y1="816.5" x2="318.71" y2="818.8" stroke="#000" stroke-width="1.2"/>
<line x1="322.88" y1="816.5" x2="322.88" y2="818.8" stroke="#000" stroke-width="1.2"/>
<text transform="translate(43.4,715.6) rotate(-90)" text-anchor="middle" style="font-size:12.3px">% Control (ATP &amp; Albumin)</text>
<text transform="translate(364,716.2) rotate(90)" text-anchor="middle" style="font-size:12.0px">Fold miR-122 release</text>
<text x="205.5" y="855.7" text-anchor="middle" style="font-size:12.7px">APAP Concentration (µM)</text>
<text x="2.4" y="612.5" class="pl">(C)</text>
<path d="M86.7 813.5L114.2 813.5" fill="none" stroke="#a900e6" stroke-width="2.4"/>
<path d="M123.7 813.5L126.24 813.5L128.77 813.5L131.31 813.5L133.84 813.5L136.38 813.5L138.92 813.5L141.45 813.5L143.99 813.5L146.53 813.5L149.06 813.5L151.6 813.5L154.13 813.5L156.67 813.5L159.21 813.5L161.74 813.5L164.28 813.5L166.82 813.5L169.35 813.5L171.89 813.5L174.43 813.5L176.96 813.5L179.5 813.5L182.03 813.5L184.57 813.5L187.11 813.5L189.64 813.5L192.18 813.5L194.72 813.5L197.25 813.5L199.79 813.5L202.32 813.5L204.86 813.5L207.4 813.5L209.93 813.5L212.47 813.5L215.01 813.5L217.54 813.5L220.08 813.5L222.61 813.5L225.15 813.5L227.69 813.5L230.22 813.5L232.76 813.5L235.3 813.5L237.83 813.5L240.37 813.5L242.9 813.5L245.44 813.5L247.98 813.5L250.51 813.5L253.05 813.5L255.59 813.5L258.12 813.5L260.66 813.49L263.19 813.49L265.73 813.49L268.27 813.49L270.8 813.48L273.34 813.48L275.88 813.48L278.41 813.47L280.95 813.47L283.48 813.46L286.02 813.45L288.56 813.45L291.09 813.44L293.63 813.43L296.17 813.42L298.7 813.41L301.24 813.4L303.77 813.39L306.31 813.35L308.85 813.28L311.38 813.16L313.92 813.01L316.46 812.03L318.99 809.63L321.53 801.52L324.06 787.35L326.6 763.2" fill="none" stroke="#a900e6" stroke-width="2.4" stroke-linejoin="round"/>
<path d="M86.7 683.58L114.2 683.58" fill="none" stroke="#00b800" stroke-width="2.6"/>
<path d="M123.7 684.37L126.24 684.43L128.77 684.49L131.31 684.57L133.84 684.64L136.38 684.72L138.92 684.81L141.45 684.91L143.99 685.01L146.53 685.12L149.06 685.24L151.6 685.36L154.13 685.5L156.67 685.65L159.21 685.81L161.74 685.98L164.28 686.16L166.82 686.35L169.35 686.56L171.89 686.79L174.43 687.03L176.96 687.29L179.5 687.57L182.03 687.87L184.57 688.19L187.11 688.54L189.64 688.91L192.18 689.3L194.72 689.72L197.25 690.17L199.79 690.66L202.32 691.17L204.86 691.72L207.4 692.31L209.93 692.93L212.47 693.6L215.01 694.31L217.54 695.07L220.08 695.87L222.61 696.72L225.15 697.62L227.69 698.58L230.22 699.59L232.76 700.65L235.3 701.78L237.83 702.97L240.37 704.22L242.9 705.53L245.44 706.91L247.98 708.35L250.51 709.85L253.05 711.42L255.59 713.06L258.12 714.76L260.66 716.52L263.19 718.34L265.73 720.22L268.27 722.16L270.8 724.15L273.34 726.19L275.88 728.27L278.41 730.4L280.95 732.56L283.48 734.75L286.02 736.97L288.56 739.21L291.09 741.45L293.63 743.71L296.17 745.97L298.7 748.22L301.24 750.46L303.77 752.68L306.31 754.88L308.85 757.05L311.38 759.18L313.92 761.27L316.46 763.32L318.99 765.32L321.53 767.27L324.06 769.16L326.6 770.99" fill="none" stroke="#00b800" stroke-width="2.6" stroke-linejoin="round"/>
<path d="M86.7 678.01L114.2 678.01" fill="none" stroke="#f99c40" stroke-width="2.6"/>
<path d="M123.7 678.08L126.24 678.09L128.77 678.11L131.31 678.12L133.84 678.14L136.38 678.15L138.92 678.17L141.45 678.2L143.99 678.22L146.53 678.25L149.06 678.29L151.6 678.33L154.13 678.37L156.67 678.42L159.21 678.48L161.74 678.54L164.28 678.62L166.82 678.7L169.35 678.8L171.89 678.91L174.43 679.03L176.96 679.17L179.5 679.33L182.03 679.52L184.57 679.72L187.11 679.96L189.64 680.23L192.18 680.53L194.72 680.88L197.25 681.27L199.79 681.71L202.32 682.21L204.86 682.77L207.4 683.41L209.93 684.13L212.47 684.94L215.01 685.85L217.54 686.87L220.08 688.02L222.61 689.29L225.15 690.72L227.69 692.31L230.22 694.06L232.76 696L235.3 698.14L237.83 700.48L240.37 703.03L242.9 705.81L245.44 708.8L247.98 712.01L250.51 715.44L253.05 719.07L255.59 722.9L258.12 726.89L260.66 731.03L263.19 735.29L265.73 739.64L268.27 744.03L270.8 748.44L273.34 752.82L275.88 757.14L278.41 761.36L280.95 765.46L283.48 769.41L286.02 773.17L288.56 776.74L291.09 780.1L293.63 783.25L296.17 786.17L298.7 788.87L301.24 791.36L303.77 793.63L306.31 795.71L308.85 797.59L311.38 799.29L313.92 800.82L316.46 802.2L318.99 803.44L321.53 804.54L324.06 805.53L326.6 806.41" fill="none" stroke="#f99c40" stroke-width="2.6" stroke-linejoin="round"/>
<line x1="327" y1="748" x2="327" y2="778" stroke="#a900e6" stroke-width="2"/><line x1="323.4" y1="748" x2="330.6" y2="748" stroke="#a900e6" stroke-width="2"/><line x1="323.4" y1="778" x2="330.6" y2="778" stroke="#a900e6" stroke-width="2"/>
<circle cx="86.7" cy="811.1" r="3.6" fill="#a900e6"/>
<circle cx="163.8" cy="813" r="3.6" fill="#a900e6"/>
<circle cx="188.3" cy="813" r="3.6" fill="#a900e6"/>
<circle cx="202.64" cy="814" r="3.6" fill="#a900e6"/>
<circle cx="245.2" cy="813.5" r="3.6" fill="#a900e6"/>
<circle cx="284.04" cy="815.2" r="3.6" fill="#a900e6"/>
<circle cx="302.1" cy="813.5" r="3.6" fill="#a900e6"/>
<circle cx="326.6" cy="763.2" r="3.6" fill="#a900e6"/>
<line x1="87" y1="658" x2="87" y2="714" stroke="#00b800" stroke-width="2"/><line x1="83.4" y1="658" x2="90.6" y2="658" stroke="#00b800" stroke-width="2"/><line x1="83.4" y1="714" x2="90.6" y2="714" stroke="#00b800" stroke-width="2"/>
<line x1="164" y1="653" x2="164" y2="720" stroke="#00b800" stroke-width="2"/><line x1="160.4" y1="653" x2="167.6" y2="653" stroke="#00b800" stroke-width="2"/><line x1="160.4" y1="720" x2="167.6" y2="720" stroke="#00b800" stroke-width="2"/>
<line x1="188" y1="670" x2="188" y2="715" stroke="#00b800" stroke-width="2"/><line x1="184.4" y1="670" x2="191.6" y2="670" stroke="#00b800" stroke-width="2"/><line x1="184.4" y1="715" x2="191.6" y2="715" stroke="#00b800" stroke-width="2"/>
<line x1="203" y1="647" x2="203" y2="732" stroke="#00b800" stroke-width="2"/><line x1="199.4" y1="647" x2="206.6" y2="647" stroke="#00b800" stroke-width="2"/><line x1="199.4" y1="732" x2="206.6" y2="732" stroke="#00b800" stroke-width="2"/>
<line x1="245" y1="662" x2="245" y2="740" stroke="#00b800" stroke-width="2"/><line x1="241.4" y1="662" x2="248.6" y2="662" stroke="#00b800" stroke-width="2"/><line x1="241.4" y1="740" x2="248.6" y2="740" stroke="#00b800" stroke-width="2"/>
<line x1="284" y1="734" x2="284" y2="755" stroke="#00b800" stroke-width="2"/><line x1="280.4" y1="734" x2="287.6" y2="734" stroke="#00b800" stroke-width="2"/><line x1="280.4" y1="755" x2="287.6" y2="755" stroke="#00b800" stroke-width="2"/>
<line x1="302" y1="738" x2="302" y2="765" stroke="#00b800" stroke-width="2"/><line x1="298.4" y1="738" x2="305.6" y2="738" stroke="#00b800" stroke-width="2"/><line x1="298.4" y1="765" x2="305.6" y2="765" stroke="#00b800" stroke-width="2"/>
<line x1="327" y1="754" x2="327" y2="778" stroke="#00b800" stroke-width="2"/><line x1="323.4" y1="754" x2="330.6" y2="754" stroke="#00b800" stroke-width="2"/><line x1="323.4" y1="778" x2="330.6" y2="778" stroke="#00b800" stroke-width="2"/>
<path d="M86.7 681.8L90.7 689.2L82.7 689.2Z" fill="#00b800"/>
<path d="M163.8 682.4L167.8 689.8L159.8 689.8Z" fill="#00b800"/>
<path d="M188.3 689L192.3 696.4L184.3 696.4Z" fill="#00b800"/>
<path d="M202.64 686.5L206.64 693.9L198.64 693.9Z" fill="#00b800"/>
<path d="M245.2 697.7L249.2 705.1L241.2 705.1Z" fill="#00b800"/>
<path d="M284.04 740.6L288.04 748L280.04 748Z" fill="#00b800"/>
<path d="M302.1 748.4L306.1 755.8L298.1 755.8Z" fill="#00b800"/>
<path d="M326.6 764.1L330.6 771.5L322.6 771.5Z" fill="#00b800"/>
<line x1="87" y1="660" x2="87" y2="712" stroke="#f99c40" stroke-width="2"/><line x1="83.4" y1="660" x2="90.6" y2="660" stroke="#f99c40" stroke-width="2"/><line x1="83.4" y1="712" x2="90.6" y2="712" stroke="#f99c40" stroke-width="2"/>
<line x1="164" y1="626" x2="164" y2="718" stroke="#f99c40" stroke-width="2"/><line x1="160.4" y1="626" x2="167.6" y2="626" stroke="#f99c40" stroke-width="2"/><line x1="160.4" y1="718" x2="167.6" y2="718" stroke="#f99c40" stroke-width="2"/>
<line x1="188" y1="648" x2="188" y2="716" stroke="#f99c40" stroke-width="2"/><line x1="184.4" y1="648" x2="191.6" y2="648" stroke="#f99c40" stroke-width="2"/><line x1="184.4" y1="716" x2="191.6" y2="716" stroke="#f99c40" stroke-width="2"/>
<line x1="203" y1="641" x2="203" y2="720" stroke="#f99c40" stroke-width="2"/><line x1="199.4" y1="641" x2="206.6" y2="641" stroke="#f99c40" stroke-width="2"/><line x1="199.4" y1="720" x2="206.6" y2="720" stroke="#f99c40" stroke-width="2"/>
<line x1="245" y1="673" x2="245" y2="745" stroke="#f99c40" stroke-width="2"/><line x1="241.4" y1="673" x2="248.6" y2="673" stroke="#f99c40" stroke-width="2"/><line x1="241.4" y1="745" x2="248.6" y2="745" stroke="#f99c40" stroke-width="2"/>
<line x1="284" y1="767" x2="284" y2="791" stroke="#f99c40" stroke-width="2"/><line x1="280.4" y1="767" x2="287.6" y2="767" stroke="#f99c40" stroke-width="2"/><line x1="280.4" y1="791" x2="287.6" y2="791" stroke="#f99c40" stroke-width="2"/>
<line x1="302" y1="775" x2="302" y2="796" stroke="#f99c40" stroke-width="2"/><line x1="298.4" y1="775" x2="305.6" y2="775" stroke="#f99c40" stroke-width="2"/><line x1="298.4" y1="796" x2="305.6" y2="796" stroke="#f99c40" stroke-width="2"/>
<line x1="327" y1="797" x2="327" y2="808" stroke="#f99c40" stroke-width="2"/><line x1="323.4" y1="797" x2="330.6" y2="797" stroke="#f99c40" stroke-width="2"/><line x1="323.4" y1="808" x2="330.6" y2="808" stroke="#f99c40" stroke-width="2"/>
<rect x="83" y="682.3" width="7.4" height="7.4" fill="#f99c40"/>
<rect x="160.1" y="668.3" width="7.4" height="7.4" fill="#f99c40"/>
<rect x="184.6" y="678.9" width="7.4" height="7.4" fill="#f99c40"/>
<rect x="198.94" y="676.4" width="7.4" height="7.4" fill="#f99c40"/>
<rect x="241.5" y="705.7" width="7.4" height="7.4" fill="#f99c40"/>
<rect x="280.34" y="775.4" width="7.4" height="7.4" fill="#f99c40"/>
<rect x="298.4" y="781.9" width="7.4" height="7.4" fill="#f99c40"/>
<rect x="322.9" y="800.3" width="7.4" height="7.4" fill="#f99c40"/>
<line x1="70.6" y1="901.7" x2="70.6" y2="1098.5" stroke="#000" stroke-width="1.8"/>
<line x1="327.5" y1="901.7" x2="327.5" y2="1098.5" stroke="#000" stroke-width="1.8"/>
<line x1="66.6" y1="1097.6" x2="70.6" y2="1097.6" stroke="#000" stroke-width="1.8"/>
<text x="65.1" y="1102.3" text-anchor="end" class="t">0</text>
<line x1="66.6" y1="1032.6" x2="70.6" y2="1032.6" stroke="#000" stroke-width="1.8"/>
<text x="65.1" y="1037.3" text-anchor="end" class="t">50</text>
<line x1="66.6" y1="967.6" x2="70.6" y2="967.6" stroke="#000" stroke-width="1.8"/>
<text x="65.1" y="972.3" text-anchor="end" class="t">100</text>
<line x1="66.6" y1="902.6" x2="70.6" y2="902.6" stroke="#000" stroke-width="1.8"/>
<text x="65.1" y="907.3" text-anchor="end" class="t">150</text>
<line x1="327.5" y1="1097.6" x2="331.5" y2="1097.6" stroke="#000" stroke-width="1.8"/>
<text x="333.5" y="1101.9" class="t">0</text>
<line x1="327.5" y1="1048.85" x2="331.5" y2="1048.85" stroke="#000" stroke-width="1.8"/>
<text x="333.5" y="1053.15" class="t">10</text>
<line x1="327.5" y1="1000.1" x2="331.5" y2="1000.1" stroke="#000" stroke-width="1.8"/>
<text x="333.5" y="1004.4" class="t">20</text>
<line x1="327.5" y1="951.35" x2="331.5" y2="951.35" stroke="#000" stroke-width="1.8"/>
<text x="333.5" y="955.65" class="t">30</text>
<line x1="327.5" y1="902.6" x2="331.5" y2="902.6" stroke="#000" stroke-width="1.8"/>
<text x="333.5" y="906.9" class="t">40</text>
<line x1="70.6" y1="1097.6" x2="107.2" y2="1097.6" stroke="#000" stroke-width="1.8"/>
<line x1="107.2" y1="1094.9" x2="107.2" y2="1100.4" stroke="#000" stroke-width="1.8"/>
<line x1="79.3" y1="1097.6" x2="79.3" y2="1101.1" stroke="#000" stroke-width="1.8"/>
<text x="79.3" y="1114.1" text-anchor="middle" class="t">0</text>
<line x1="116" y1="1097.6" x2="327.5" y2="1097.6" stroke="#000" stroke-width="1.8"/>
<line x1="116" y1="1094.9" x2="116" y2="1100.4" stroke="#000" stroke-width="1.8"/>
<line x1="156.7" y1="1097.6" x2="156.7" y2="1101.1" stroke="#000" stroke-width="1.8"/>
<text x="156.7" y="1114.1" text-anchor="middle" class="t">100</text>
<line x1="181.11" y1="1097.6" x2="181.11" y2="1099.9" stroke="#000" stroke-width="1.2"/>
<line x1="195.39" y1="1097.6" x2="195.39" y2="1099.9" stroke="#000" stroke-width="1.2"/>
<line x1="124.43" y1="1097.6" x2="124.43" y2="1099.9" stroke="#000" stroke-width="1.2"/>
<line x1="205.53" y1="1097.6" x2="205.53" y2="1099.9" stroke="#000" stroke-width="1.2"/>
<line x1="132.29" y1="1097.6" x2="132.29" y2="1099.9" stroke="#000" stroke-width="1.2"/>
<line x1="213.39" y1="1097.6" x2="213.39" y2="1099.9" stroke="#000" stroke-width="1.2"/>
<line x1="138.71" y1="1097.6" x2="138.71" y2="1099.9" stroke="#000" stroke-width="1.2"/>
<line x1="219.81" y1="1097.6" x2="219.81" y2="1099.9" stroke="#000" stroke-width="1.2"/>
<line x1="144.14" y1="1097.6" x2="144.14" y2="1099.9" stroke="#000" stroke-width="1.2"/>
<line x1="225.24" y1="1097.6" x2="225.24" y2="1099.9" stroke="#000" stroke-width="1.2"/>
<line x1="148.84" y1="1097.6" x2="148.84" y2="1099.9" stroke="#000" stroke-width="1.2"/>
<line x1="229.94" y1="1097.6" x2="229.94" y2="1099.9" stroke="#000" stroke-width="1.2"/>
<line x1="152.99" y1="1097.6" x2="152.99" y2="1099.9" stroke="#000" stroke-width="1.2"/>
<line x1="234.09" y1="1097.6" x2="234.09" y2="1099.9" stroke="#000" stroke-width="1.2"/>
<line x1="237.8" y1="1097.6" x2="237.8" y2="1101.1" stroke="#000" stroke-width="1.8"/>
<text x="237.8" y="1114.1" text-anchor="middle" class="t">1000</text>
<line x1="181.11" y1="1097.6" x2="181.11" y2="1099.9" stroke="#000" stroke-width="1.2"/>
<line x1="262.21" y1="1097.6" x2="262.21" y2="1099.9" stroke="#000" stroke-width="1.2"/>
<line x1="195.39" y1="1097.6" x2="195.39" y2="1099.9" stroke="#000" stroke-width="1.2"/>
<line x1="276.49" y1="1097.6" x2="276.49" y2="1099.9" stroke="#000" stroke-width="1.2"/>
<line x1="205.53" y1="1097.6" x2="205.53" y2="1099.9" stroke="#000" stroke-width="1.2"/>
<line x1="286.63" y1="1097.6" x2="286.63" y2="1099.9" stroke="#000" stroke-width="1.2"/>
<line x1="213.39" y1="1097.6" x2="213.39" y2="1099.9" stroke="#000" stroke-width="1.2"/>
<line x1="294.49" y1="1097.6" x2="294.49" y2="1099.9" stroke="#000" stroke-width="1.2"/>
<line x1="219.81" y1="1097.6" x2="219.81" y2="1099.9" stroke="#000" stroke-width="1.2"/>
<line x1="300.91" y1="1097.6" x2="300.91" y2="1099.9" stroke="#000" stroke-width="1.2"/>
<line x1="225.24" y1="1097.6" x2="225.24" y2="1099.9" stroke="#000" stroke-width="1.2"/>
<line x1="306.34" y1="1097.6" x2="306.34" y2="1099.9" stroke="#000" stroke-width="1.2"/>
<line x1="229.94" y1="1097.6" x2="229.94" y2="1099.9" stroke="#000" stroke-width="1.2"/>
<line x1="311.04" y1="1097.6" x2="311.04" y2="1099.9" stroke="#000" stroke-width="1.2"/>
<line x1="234.09" y1="1097.6" x2="234.09" y2="1099.9" stroke="#000" stroke-width="1.2"/>
<line x1="315.19" y1="1097.6" x2="315.19" y2="1099.9" stroke="#000" stroke-width="1.2"/>
<line x1="318.9" y1="1097.6" x2="318.9" y2="1101.1" stroke="#000" stroke-width="1.8"/>
<text x="318.9" y="1114.1" text-anchor="middle" class="t">10000</text>
<line x1="262.21" y1="1097.6" x2="262.21" y2="1099.9" stroke="#000" stroke-width="1.2"/>
<line x1="276.49" y1="1097.6" x2="276.49" y2="1099.9" stroke="#000" stroke-width="1.2"/>
<line x1="286.63" y1="1097.6" x2="286.63" y2="1099.9" stroke="#000" stroke-width="1.2"/>
<line x1="294.49" y1="1097.6" x2="294.49" y2="1099.9" stroke="#000" stroke-width="1.2"/>
<line x1="300.91" y1="1097.6" x2="300.91" y2="1099.9" stroke="#000" stroke-width="1.2"/>
<line x1="306.34" y1="1097.6" x2="306.34" y2="1099.9" stroke="#000" stroke-width="1.2"/>
<line x1="311.04" y1="1097.6" x2="311.04" y2="1099.9" stroke="#000" stroke-width="1.2"/>
<line x1="315.19" y1="1097.6" x2="315.19" y2="1099.9" stroke="#000" stroke-width="1.2"/>
<text transform="translate(43.1,997.6) rotate(-90)" text-anchor="middle" style="font-size:12.2px">% Control (ATP &amp; Albumin)</text>
<text transform="translate(356.4,997.4) rotate(90)" text-anchor="middle" style="font-size:12.0px">Fold miR-122 release</text>
<text x="198.65" y="1136.6" text-anchor="middle" style="font-size:12.65px">APAP Concentration (µM)</text>
<text x="3.5" y="887.7" class="pl">(D)</text>
<path d="M79.3 1093.2L106.9 1093.2" fill="none" stroke="#bb00c2" stroke-width="2.4"/>
<path d="M116.3 1093.2L118.83 1093.2L121.36 1093.2L123.9 1093.2L126.43 1093.2L128.96 1093.2L131.5 1093.2L134.03 1093.2L136.56 1093.2L139.09 1093.2L141.62 1093.2L144.16 1093.2L146.69 1093.2L149.22 1093.2L151.75 1093.2L154.29 1093.2L156.82 1093.2L159.35 1093.2L161.88 1093.2L164.42 1093.2L166.95 1093.2L169.48 1093.2L172.01 1093.2L174.55 1093.2L177.08 1093.2L179.61 1093.2L182.14 1093.2L184.68 1093.2L187.21 1093.2L189.74 1093.2L192.27 1093.2L194.81 1093.2L197.34 1093.2L199.87 1093.2L202.4 1093.2L204.94 1093.2L207.47 1093.2L210 1093.2L212.53 1093.2L215.07 1093.2L217.6 1093.2L220.13 1093.2L222.66 1093.2L225.2 1093.2L227.73 1093.2L230.26 1093.2L232.79 1093.2L235.33 1093.2L237.86 1093.2L240.39 1093.2L242.92 1093.2L245.46 1093.19L247.99 1093.18L250.52 1093.17L253.05 1093.16L255.59 1093.14L258.12 1093.12L260.65 1093.1L263.18 1093.07L265.72 1093.05L268.25 1093.02L270.78 1092.98L273.31 1092.95L275.85 1092.91L278.38 1092.85L280.91 1092.74L283.44 1092.57L285.98 1092.34L288.51 1092.06L291.04 1091.73L293.57 1091.35L296.11 1090.85L298.64 1089.99L301.17 1088.72L303.7 1086.77L306.24 1082.53L308.77 1076.8L311.3 1070.91L313.83 1064.88L316.37 1058.25L318.9 1051.1" fill="none" stroke="#bb00c2" stroke-width="2.4" stroke-linejoin="round"/>
<path d="M79.3 958.76L106.9 958.76" fill="none" stroke="#00b800" stroke-width="2.6"/>
<path d="M116.3 959.07L118.83 959.11L121.36 959.15L123.9 959.19L126.43 959.24L128.96 959.29L131.5 959.35L134.03 959.41L136.56 959.49L139.09 959.57L141.62 959.66L144.16 959.76L146.69 959.87L149.22 959.99L151.75 960.12L154.29 960.28L156.82 960.44L159.35 960.63L161.88 960.84L164.42 961.07L166.95 961.32L169.48 961.6L172.01 961.91L174.55 962.26L177.08 962.64L179.61 963.06L182.14 963.52L184.68 964.04L187.21 964.6L189.74 965.22L192.27 965.91L194.81 966.66L197.34 967.49L199.87 968.39L202.4 969.38L204.94 970.46L207.47 971.64L210 972.92L212.53 974.32L215.07 975.82L217.6 977.45L220.13 979.2L222.66 981.08L225.2 983.1L227.73 985.24L230.26 987.52L232.79 989.94L235.33 992.48L237.86 995.14L240.39 997.93L242.92 1000.82L245.46 1003.81L247.99 1006.88L250.52 1010.02L253.05 1013.22L255.59 1016.46L258.12 1019.71L260.65 1022.96L263.18 1026.2L265.72 1029.4L268.25 1032.55L270.78 1035.62L273.31 1038.62L275.85 1041.51L278.38 1044.3L280.91 1046.97L283.44 1049.52L285.98 1051.94L288.51 1054.23L291.04 1056.38L293.57 1058.4L296.11 1060.29L298.64 1062.04L301.17 1063.68L303.7 1065.19L306.24 1066.59L308.77 1067.87L311.3 1069.06L313.83 1070.14L316.37 1071.14L318.9 1072.05" fill="none" stroke="#00b800" stroke-width="2.6" stroke-linejoin="round"/>
<path d="M79.3 960.59L106.9 960.59" fill="none" stroke="#f99c40" stroke-width="2.6"/>
<path d="M116.3 960.75L118.83 960.78L121.36 960.8L123.9 960.83L126.43 960.86L128.96 960.89L131.5 960.93L134.03 960.97L136.56 961.02L139.09 961.08L141.62 961.14L144.16 961.21L146.69 961.28L149.22 961.37L151.75 961.47L154.29 961.58L156.82 961.7L159.35 961.84L161.88 962L164.42 962.18L166.95 962.37L169.48 962.6L172.01 962.85L174.55 963.13L177.08 963.44L179.61 963.79L182.14 964.18L184.68 964.62L187.21 965.11L189.74 965.66L192.27 966.27L194.81 966.96L197.34 967.72L199.87 968.56L202.4 969.5L204.94 970.54L207.47 971.7L210 972.97L212.53 974.37L215.07 975.91L217.6 977.6L220.13 979.45L222.66 981.46L225.2 983.64L227.73 986L230.26 988.54L232.79 991.27L235.33 994.18L237.86 997.27L240.39 1000.53L242.92 1003.95L245.46 1007.53L247.99 1011.24L250.52 1015.06L253.05 1018.97L255.59 1022.95L258.12 1026.97L260.65 1031L263.18 1035.01L265.72 1038.97L268.25 1042.86L270.78 1046.66L273.31 1050.34L275.85 1053.88L278.38 1057.27L280.91 1060.49L283.44 1063.53L285.98 1066.4L288.51 1069.08L291.04 1071.58L293.57 1073.9L296.11 1076.04L298.64 1078.01L301.17 1079.82L303.7 1081.47L306.24 1082.98L308.77 1084.35L311.3 1085.59L313.83 1086.71L316.37 1087.73L318.9 1088.65" fill="none" stroke="#f99c40" stroke-width="2.6" stroke-linejoin="round"/>
<line x1="319" y1="1020" x2="319" y2="1083" stroke="#a900e6" stroke-width="2"/><line x1="315.4" y1="1020" x2="322.6" y2="1020" stroke="#a900e6" stroke-width="2"/><line x1="315.4" y1="1083" x2="322.6" y2="1083" stroke="#a900e6" stroke-width="2"/>
<circle cx="79.3" cy="1092.5" r="3.6" fill="#a900e6"/>
<circle cx="156.7" cy="1094" r="3.6" fill="#a900e6"/>
<circle cx="181.11" cy="1091.5" r="3.6" fill="#a900e6"/>
<circle cx="195.39" cy="1094.6" r="3.6" fill="#a900e6"/>
<circle cx="237.8" cy="1095.4" r="3.6" fill="#a900e6"/>
<circle cx="276.49" cy="1094" r="3.6" fill="#a900e6"/>
<circle cx="294.49" cy="1092.3" r="3.6" fill="#a900e6"/>
<circle cx="318.9" cy="1051.1" r="3.6" fill="#a900e6"/>
<line x1="79" y1="958" x2="79" y2="977" stroke="#00b800" stroke-width="2"/><line x1="75.4" y1="958" x2="82.6" y2="958" stroke="#00b800" stroke-width="2"/><line x1="75.4" y1="977" x2="82.6" y2="977" stroke="#00b800" stroke-width="2"/>
<line x1="157" y1="912" x2="157" y2="982" stroke="#00b800" stroke-width="2"/><line x1="153.4" y1="912" x2="160.6" y2="912" stroke="#00b800" stroke-width="2"/><line x1="153.4" y1="982" x2="160.6" y2="982" stroke="#00b800" stroke-width="2"/>
<line x1="181" y1="946" x2="181" y2="990" stroke="#00b800" stroke-width="2"/><line x1="177.4" y1="946" x2="184.6" y2="946" stroke="#00b800" stroke-width="2"/><line x1="177.4" y1="990" x2="184.6" y2="990" stroke="#00b800" stroke-width="2"/>
<line x1="195" y1="950" x2="195" y2="996" stroke="#00b800" stroke-width="2"/><line x1="191.4" y1="950" x2="198.6" y2="950" stroke="#00b800" stroke-width="2"/><line x1="191.4" y1="996" x2="198.6" y2="996" stroke="#00b800" stroke-width="2"/>
<line x1="238" y1="963" x2="238" y2="1014" stroke="#00b800" stroke-width="2"/><line x1="234.4" y1="963" x2="241.6" y2="963" stroke="#00b800" stroke-width="2"/><line x1="234.4" y1="1014" x2="241.6" y2="1014" stroke="#00b800" stroke-width="2"/>
<line x1="276" y1="1043" x2="276" y2="1056" stroke="#00b800" stroke-width="2"/><line x1="272.4" y1="1043" x2="279.6" y2="1043" stroke="#00b800" stroke-width="2"/><line x1="272.4" y1="1056" x2="279.6" y2="1056" stroke="#00b800" stroke-width="2"/>
<line x1="294" y1="1032" x2="294" y2="1055" stroke="#00b800" stroke-width="2"/><line x1="290.4" y1="1032" x2="297.6" y2="1032" stroke="#00b800" stroke-width="2"/><line x1="290.4" y1="1055" x2="297.6" y2="1055" stroke="#00b800" stroke-width="2"/>
<line x1="319" y1="1064" x2="319" y2="1080" stroke="#00b800" stroke-width="2"/><line x1="315.4" y1="1064" x2="322.6" y2="1064" stroke="#00b800" stroke-width="2"/><line x1="315.4" y1="1080" x2="322.6" y2="1080" stroke="#00b800" stroke-width="2"/>
<path d="M79.3 963.4L83.3 970.8L75.3 970.8Z" fill="#00b800"/>
<path d="M156.7 943.9L160.7 951.3L152.7 951.3Z" fill="#00b800"/>
<path d="M181.11 964.3L185.11 971.7L177.11 971.7Z" fill="#00b800"/>
<path d="M195.39 967.8L199.39 975.2L191.39 975.2Z" fill="#00b800"/>
<path d="M237.8 985.7L241.8 993.1L233.8 993.1Z" fill="#00b800"/>
<path d="M276.49 1046.5L280.49 1053.9L272.49 1053.9Z" fill="#00b800"/>
<path d="M294.49 1041.8L298.49 1049.2L290.49 1049.2Z" fill="#00b800"/>
<path d="M318.9 1069L322.9 1076.4L314.9 1076.4Z" fill="#00b800"/>
<line x1="79" y1="938" x2="79" y2="997" stroke="#f99c40" stroke-width="2"/><line x1="75.4" y1="938" x2="82.6" y2="938" stroke="#f99c40" stroke-width="2"/><line x1="75.4" y1="997" x2="82.6" y2="997" stroke="#f99c40" stroke-width="2"/>
<line x1="157" y1="917" x2="157" y2="993" stroke="#f99c40" stroke-width="2"/><line x1="153.4" y1="917" x2="160.6" y2="917" stroke="#f99c40" stroke-width="2"/><line x1="153.4" y1="993" x2="160.6" y2="993" stroke="#f99c40" stroke-width="2"/>
<line x1="181" y1="910" x2="181" y2="1009" stroke="#f99c40" stroke-width="2"/><line x1="177.4" y1="910" x2="184.6" y2="910" stroke="#f99c40" stroke-width="2"/><line x1="177.4" y1="1009" x2="184.6" y2="1009" stroke="#f99c40" stroke-width="2"/>
<line x1="195" y1="933" x2="195" y2="1011" stroke="#f99c40" stroke-width="2"/><line x1="191.4" y1="933" x2="198.6" y2="933" stroke="#f99c40" stroke-width="2"/><line x1="191.4" y1="1011" x2="198.6" y2="1011" stroke="#f99c40" stroke-width="2"/>
<line x1="238" y1="965" x2="238" y2="1026" stroke="#f99c40" stroke-width="2"/><line x1="234.4" y1="965" x2="241.6" y2="965" stroke="#f99c40" stroke-width="2"/><line x1="234.4" y1="1026" x2="241.6" y2="1026" stroke="#f99c40" stroke-width="2"/>
<line x1="276" y1="1045" x2="276" y2="1079" stroke="#f99c40" stroke-width="2"/><line x1="272.4" y1="1045" x2="279.6" y2="1045" stroke="#f99c40" stroke-width="2"/><line x1="272.4" y1="1079" x2="279.6" y2="1079" stroke="#f99c40" stroke-width="2"/>
<line x1="294" y1="1049" x2="294" y2="1081" stroke="#f99c40" stroke-width="2"/><line x1="290.4" y1="1049" x2="297.6" y2="1049" stroke="#f99c40" stroke-width="2"/><line x1="290.4" y1="1081" x2="297.6" y2="1081" stroke="#f99c40" stroke-width="2"/>
<line x1="319" y1="1089" x2="319" y2="1095" stroke="#f99c40" stroke-width="2"/><line x1="315.4" y1="1089" x2="322.6" y2="1089" stroke="#f99c40" stroke-width="2"/><line x1="315.4" y1="1095" x2="322.6" y2="1095" stroke="#f99c40" stroke-width="2"/>
<rect x="75.6" y="963.8" width="7.4" height="7.4" fill="#f99c40"/>
<rect x="153" y="951.5" width="7.4" height="7.4" fill="#f99c40"/>
<rect x="177.41" y="956.6" width="7.4" height="7.4" fill="#f99c40"/>
<rect x="191.69" y="968.2" width="7.4" height="7.4" fill="#f99c40"/>
<rect x="234.1" y="991.3" width="7.4" height="7.4" fill="#f99c40"/>
<rect x="272.79" y="1058.7" width="7.4" height="7.4" fill="#f99c40"/>
<rect x="290.79" y="1061.3" width="7.4" height="7.4" fill="#f99c40"/>
<rect x="315.2" y="1088.6" width="7.4" height="7.4" fill="#f99c40"/>
<line x1="486.65" y1="53.9" x2="486.65" y2="251.1" stroke="#000" stroke-width="1.8"/>
<line x1="744.5" y1="53.9" x2="744.5" y2="251.1" stroke="#000" stroke-width="1.8"/>
<line x1="482.65" y1="250.2" x2="486.65" y2="250.2" stroke="#000" stroke-width="1.8"/>
<text x="481.15" y="254.9" text-anchor="end" class="t">0</text>
<line x1="482.65" y1="201.35" x2="486.65" y2="201.35" stroke="#000" stroke-width="1.8"/>
<text x="481.15" y="206.05" text-anchor="end" class="t">50</text>
<line x1="482.65" y1="152.5" x2="486.65" y2="152.5" stroke="#000" stroke-width="1.8"/>
<text x="481.15" y="157.2" text-anchor="end" class="t">100</text>
<line x1="482.65" y1="103.65" x2="486.65" y2="103.65" stroke="#000" stroke-width="1.8"/>
<text x="481.15" y="108.35" text-anchor="end" class="t">150</text>
<line x1="482.65" y1="54.8" x2="486.65" y2="54.8" stroke="#000" stroke-width="1.8"/>
<text x="481.15" y="59.5" text-anchor="end" class="t">200</text>
<line x1="744.5" y1="250.2" x2="748.5" y2="250.2" stroke="#000" stroke-width="1.8"/>
<text x="750.5" y="254.5" class="t">0</text>
<line x1="744.5" y1="201.35" x2="748.5" y2="201.35" stroke="#000" stroke-width="1.8"/>
<text x="750.5" y="205.65" class="t">10</text>
<line x1="744.5" y1="152.5" x2="748.5" y2="152.5" stroke="#000" stroke-width="1.8"/>
<text x="750.5" y="156.8" class="t">20</text>
<line x1="744.5" y1="103.65" x2="748.5" y2="103.65" stroke="#000" stroke-width="1.8"/>
<text x="750.5" y="107.95" class="t">30</text>
<line x1="744.5" y1="54.8" x2="748.5" y2="54.8" stroke="#000" stroke-width="1.8"/>
<text x="750.5" y="59.1" class="t">40</text>
<line x1="486.65" y1="250.2" x2="524" y2="250.2" stroke="#000" stroke-width="1.8"/>
<line x1="524" y1="247.5" x2="524" y2="253" stroke="#000" stroke-width="1.8"/>
<line x1="505" y1="250.2" x2="505" y2="253.7" stroke="#000" stroke-width="1.8"/>
<text x="505" y="266.7" text-anchor="middle" class="t">0</text>
<line x1="532.2" y1="250.2" x2="744.5" y2="250.2" stroke="#000" stroke-width="1.8"/>
<line x1="532.2" y1="247.5" x2="532.2" y2="253" stroke="#000" stroke-width="1.8"/>
<line x1="555.2" y1="250.2" x2="555.2" y2="253.7" stroke="#000" stroke-width="1.8"/>
<text x="555.2" y="266.7" text-anchor="middle" class="t">0.1</text>
<line x1="569.11" y1="250.2" x2="569.11" y2="252.5" stroke="#000" stroke-width="1.2"/>
<line x1="577.24" y1="250.2" x2="577.24" y2="252.5" stroke="#000" stroke-width="1.2"/>
<line x1="536.82" y1="250.2" x2="536.82" y2="252.5" stroke="#000" stroke-width="1.2"/>
<line x1="583.02" y1="250.2" x2="583.02" y2="252.5" stroke="#000" stroke-width="1.2"/>
<line x1="541.29" y1="250.2" x2="541.29" y2="252.5" stroke="#000" stroke-width="1.2"/>
<line x1="587.49" y1="250.2" x2="587.49" y2="252.5" stroke="#000" stroke-width="1.2"/>
<line x1="544.95" y1="250.2" x2="544.95" y2="252.5" stroke="#000" stroke-width="1.2"/>
<line x1="591.15" y1="250.2" x2="591.15" y2="252.5" stroke="#000" stroke-width="1.2"/>
<line x1="548.04" y1="250.2" x2="548.04" y2="252.5" stroke="#000" stroke-width="1.2"/>
<line x1="594.24" y1="250.2" x2="594.24" y2="252.5" stroke="#000" stroke-width="1.2"/>
<line x1="550.72" y1="250.2" x2="550.72" y2="252.5" stroke="#000" stroke-width="1.2"/>
<line x1="596.92" y1="250.2" x2="596.92" y2="252.5" stroke="#000" stroke-width="1.2"/>
<line x1="553.09" y1="250.2" x2="553.09" y2="252.5" stroke="#000" stroke-width="1.2"/>
<line x1="599.29" y1="250.2" x2="599.29" y2="252.5" stroke="#000" stroke-width="1.2"/>
<line x1="601.4" y1="250.2" x2="601.4" y2="253.7" stroke="#000" stroke-width="1.8"/>
<text x="601.4" y="266.7" text-anchor="middle" class="t">1</text>
<line x1="569.11" y1="250.2" x2="569.11" y2="252.5" stroke="#000" stroke-width="1.2"/>
<line x1="615.31" y1="250.2" x2="615.31" y2="252.5" stroke="#000" stroke-width="1.2"/>
<line x1="577.24" y1="250.2" x2="577.24" y2="252.5" stroke="#000" stroke-width="1.2"/>
<line x1="623.44" y1="250.2" x2="623.44" y2="252.5" stroke="#000" stroke-width="1.2"/>
<line x1="583.02" y1="250.2" x2="583.02" y2="252.5" stroke="#000" stroke-width="1.2"/>
<line x1="629.22" y1="250.2" x2="629.22" y2="252.5" stroke="#000" stroke-width="1.2"/>
<line x1="587.49" y1="250.2" x2="587.49" y2="252.5" stroke="#000" stroke-width="1.2"/>
<line x1="633.69" y1="250.2" x2="633.69" y2="252.5" stroke="#000" stroke-width="1.2"/>
<line x1="591.15" y1="250.2" x2="591.15" y2="252.5" stroke="#000" stroke-width="1.2"/>
<line x1="637.35" y1="250.2" x2="637.35" y2="252.5" stroke="#000" stroke-width="1.2"/>
<line x1="594.24" y1="250.2" x2="594.24" y2="252.5" stroke="#000" stroke-width="1.2"/>
<line x1="640.44" y1="250.2" x2="640.44" y2="252.5" stroke="#000" stroke-width="1.2"/>
<line x1="596.92" y1="250.2" x2="596.92" y2="252.5" stroke="#000" stroke-width="1.2"/>
<line x1="643.12" y1="250.2" x2="643.12" y2="252.5" stroke="#000" stroke-width="1.2"/>
<line x1="599.29" y1="250.2" x2="599.29" y2="252.5" stroke="#000" stroke-width="1.2"/>
<line x1="645.49" y1="250.2" x2="645.49" y2="252.5" stroke="#000" stroke-width="1.2"/>
<line x1="647.6" y1="250.2" x2="647.6" y2="253.7" stroke="#000" stroke-width="1.8"/>
<text x="647.6" y="266.7" text-anchor="middle" class="t">10</text>
<line x1="615.31" y1="250.2" x2="615.31" y2="252.5" stroke="#000" stroke-width="1.2"/>
<line x1="661.51" y1="250.2" x2="661.51" y2="252.5" stroke="#000" stroke-width="1.2"/>
<line x1="623.44" y1="250.2" x2="623.44" y2="252.5" stroke="#000" stroke-width="1.2"/>
<line x1="669.64" y1="250.2" x2="669.64" y2="252.5" stroke="#000" stroke-width="1.2"/>
<line x1="629.22" y1="250.2" x2="629.22" y2="252.5" stroke="#000" stroke-width="1.2"/>
<line x1="675.42" y1="250.2" x2="675.42" y2="252.5" stroke="#000" stroke-width="1.2"/>
<line x1="633.69" y1="250.2" x2="633.69" y2="252.5" stroke="#000" stroke-width="1.2"/>
<line x1="679.89" y1="250.2" x2="679.89" y2="252.5" stroke="#000" stroke-width="1.2"/>
<line x1="637.35" y1="250.2" x2="637.35" y2="252.5" stroke="#000" stroke-width="1.2"/>
<line x1="683.55" y1="250.2" x2="683.55" y2="252.5" stroke="#000" stroke-width="1.2"/>
<line x1="640.44" y1="250.2" x2="640.44" y2="252.5" stroke="#000" stroke-width="1.2"/>
<line x1="686.64" y1="250.2" x2="686.64" y2="252.5" stroke="#000" stroke-width="1.2"/>
<line x1="643.12" y1="250.2" x2="643.12" y2="252.5" stroke="#000" stroke-width="1.2"/>
<line x1="689.32" y1="250.2" x2="689.32" y2="252.5" stroke="#000" stroke-width="1.2"/>
<line x1="645.49" y1="250.2" x2="645.49" y2="252.5" stroke="#000" stroke-width="1.2"/>
<line x1="691.69" y1="250.2" x2="691.69" y2="252.5" stroke="#000" stroke-width="1.2"/>
<line x1="693.8" y1="250.2" x2="693.8" y2="253.7" stroke="#000" stroke-width="1.8"/>
<text x="693.8" y="266.7" text-anchor="middle" class="t">100</text>
<line x1="661.51" y1="250.2" x2="661.51" y2="252.5" stroke="#000" stroke-width="1.2"/>
<line x1="707.71" y1="250.2" x2="707.71" y2="252.5" stroke="#000" stroke-width="1.2"/>
<line x1="669.64" y1="250.2" x2="669.64" y2="252.5" stroke="#000" stroke-width="1.2"/>
<line x1="715.84" y1="250.2" x2="715.84" y2="252.5" stroke="#000" stroke-width="1.2"/>
<line x1="675.42" y1="250.2" x2="675.42" y2="252.5" stroke="#000" stroke-width="1.2"/>
<line x1="721.62" y1="250.2" x2="721.62" y2="252.5" stroke="#000" stroke-width="1.2"/>
<line x1="679.89" y1="250.2" x2="679.89" y2="252.5" stroke="#000" stroke-width="1.2"/>
<line x1="726.09" y1="250.2" x2="726.09" y2="252.5" stroke="#000" stroke-width="1.2"/>
<line x1="683.55" y1="250.2" x2="683.55" y2="252.5" stroke="#000" stroke-width="1.2"/>
<line x1="729.75" y1="250.2" x2="729.75" y2="252.5" stroke="#000" stroke-width="1.2"/>
<line x1="686.64" y1="250.2" x2="686.64" y2="252.5" stroke="#000" stroke-width="1.2"/>
<line x1="732.84" y1="250.2" x2="732.84" y2="252.5" stroke="#000" stroke-width="1.2"/>
<line x1="689.32" y1="250.2" x2="689.32" y2="252.5" stroke="#000" stroke-width="1.2"/>
<line x1="735.52" y1="250.2" x2="735.52" y2="252.5" stroke="#000" stroke-width="1.2"/>
<line x1="691.69" y1="250.2" x2="691.69" y2="252.5" stroke="#000" stroke-width="1.2"/>
<line x1="737.89" y1="250.2" x2="737.89" y2="252.5" stroke="#000" stroke-width="1.2"/>
<line x1="740" y1="250.2" x2="740" y2="253.7" stroke="#000" stroke-width="1.8"/>
<text x="740" y="266.7" text-anchor="middle" class="t">1000</text>
<line x1="707.71" y1="250.2" x2="707.71" y2="252.5" stroke="#000" stroke-width="1.2"/>
<line x1="715.84" y1="250.2" x2="715.84" y2="252.5" stroke="#000" stroke-width="1.2"/>
<line x1="721.62" y1="250.2" x2="721.62" y2="252.5" stroke="#000" stroke-width="1.2"/>
<line x1="726.09" y1="250.2" x2="726.09" y2="252.5" stroke="#000" stroke-width="1.2"/>
<line x1="729.75" y1="250.2" x2="729.75" y2="252.5" stroke="#000" stroke-width="1.2"/>
<line x1="732.84" y1="250.2" x2="732.84" y2="252.5" stroke="#000" stroke-width="1.2"/>
<line x1="735.52" y1="250.2" x2="735.52" y2="252.5" stroke="#000" stroke-width="1.2"/>
<line x1="737.89" y1="250.2" x2="737.89" y2="252.5" stroke="#000" stroke-width="1.2"/>
<text transform="translate(453.2,149.6) rotate(-90)" text-anchor="middle" style="font-size:12.3px">% Control (ATP &amp; Albumin)</text>
<text transform="translate(774,149.8) rotate(90)" text-anchor="middle" style="font-size:12.0px">Fold miR-122 release</text>
<text x="615.5" y="289.6" text-anchor="middle" style="font-size:12.5px">FIAU Concentration (µM)</text>
<text x="398.5" y="51.2" class="pl">(E)</text>
<path d="M505 245.4L523.7 245.27" fill="none" stroke="#a900e6" stroke-width="2.6" stroke-linejoin="round"/>
<path d="M532.5 245.21L577.24 244.9L601.4 245.4L623.44 244.6L647.6 244.3L669.64 243.3L693.8 242.2L715.84 238.4" fill="none" stroke="#a900e6" stroke-width="2.6" stroke-linejoin="round"/>
<path d="M505 152L523.7 151.25" fill="none" stroke="#00b800" stroke-width="2.6" stroke-linejoin="round"/>
<path d="M532.5 150.9L577.24 149.1L601.4 153.2L623.44 151.2L647.6 140L669.64 150.1L679.89 147.1L693.8 142L715.84 131.8" fill="none" stroke="#00b800" stroke-width="2.6" stroke-linejoin="round"/>
<path d="M505 152.6L523.7 153.17" fill="none" stroke="#f99c40" stroke-width="2.6" stroke-linejoin="round"/>
<path d="M532.5 153.44L577.24 154.8L601.4 153.8L623.44 157.9L647.6 144.3L669.64 152.8L679.89 153.2L693.8 142L715.84 143.6" fill="none" stroke="#f99c40" stroke-width="2.6" stroke-linejoin="round"/>
<line x1="694" y1="238" x2="694" y2="246" stroke="#a900e6" stroke-width="2"/><line x1="690.4" y1="238" x2="697.6" y2="238" stroke="#a900e6" stroke-width="2"/><line x1="690.4" y1="246" x2="697.6" y2="246" stroke="#a900e6" stroke-width="2"/>
<line x1="716" y1="227" x2="716" y2="250" stroke="#a900e6" stroke-width="2"/><line x1="712.4" y1="227" x2="719.6" y2="227" stroke="#a900e6" stroke-width="2"/><line x1="712.4" y1="250" x2="719.6" y2="250" stroke="#a900e6" stroke-width="2"/>
<circle cx="505" cy="245.4" r="3.6" fill="#a900e6"/>
<circle cx="577.24" cy="244.9" r="3.6" fill="#a900e6"/>
<circle cx="601.4" cy="245.4" r="3.6" fill="#a900e6"/>
<circle cx="623.44" cy="244.6" r="3.6" fill="#a900e6"/>
<circle cx="647.6" cy="244.3" r="3.6" fill="#a900e6"/>
<circle cx="669.64" cy="243.3" r="3.6" fill="#a900e6"/>
<circle cx="693.8" cy="242.2" r="3.6" fill="#a900e6"/>
<circle cx="715.84" cy="238.4" r="3.6" fill="#a900e6"/>
<line x1="505" y1="139" x2="505" y2="166" stroke="#00b800" stroke-width="2"/><line x1="501.4" y1="139" x2="508.6" y2="139" stroke="#00b800" stroke-width="2"/><line x1="501.4" y1="166" x2="508.6" y2="166" stroke="#00b800" stroke-width="2"/>
<line x1="577" y1="136" x2="577" y2="163" stroke="#00b800" stroke-width="2"/><line x1="573.4" y1="136" x2="580.6" y2="136" stroke="#00b800" stroke-width="2"/><line x1="573.4" y1="163" x2="580.6" y2="163" stroke="#00b800" stroke-width="2"/>
<line x1="601" y1="137" x2="601" y2="170" stroke="#00b800" stroke-width="2"/><line x1="597.4" y1="137" x2="604.6" y2="137" stroke="#00b800" stroke-width="2"/><line x1="597.4" y1="170" x2="604.6" y2="170" stroke="#00b800" stroke-width="2"/>
<line x1="623" y1="137" x2="623" y2="166" stroke="#00b800" stroke-width="2"/><line x1="619.4" y1="137" x2="626.6" y2="137" stroke="#00b800" stroke-width="2"/><line x1="619.4" y1="166" x2="626.6" y2="166" stroke="#00b800" stroke-width="2"/>
<line x1="648" y1="133" x2="648" y2="148" stroke="#00b800" stroke-width="2"/><line x1="644.4" y1="133" x2="651.6" y2="133" stroke="#00b800" stroke-width="2"/><line x1="644.4" y1="148" x2="651.6" y2="148" stroke="#00b800" stroke-width="2"/>
<line x1="670" y1="131" x2="670" y2="170" stroke="#00b800" stroke-width="2"/><line x1="666.4" y1="131" x2="673.6" y2="131" stroke="#00b800" stroke-width="2"/><line x1="666.4" y1="170" x2="673.6" y2="170" stroke="#00b800" stroke-width="2"/>
<line x1="680" y1="131" x2="680" y2="162" stroke="#00b800" stroke-width="2"/><line x1="676.4" y1="131" x2="683.6" y2="131" stroke="#00b800" stroke-width="2"/><line x1="676.4" y1="162" x2="683.6" y2="162" stroke="#00b800" stroke-width="2"/>
<line x1="694" y1="137" x2="694" y2="152" stroke="#00b800" stroke-width="2"/><line x1="690.4" y1="137" x2="697.6" y2="137" stroke="#00b800" stroke-width="2"/><line x1="690.4" y1="152" x2="697.6" y2="152" stroke="#00b800" stroke-width="2"/>
<line x1="716" y1="108" x2="716" y2="153" stroke="#00b800" stroke-width="2"/><line x1="712.4" y1="108" x2="719.6" y2="108" stroke="#00b800" stroke-width="2"/><line x1="712.4" y1="153" x2="719.6" y2="153" stroke="#00b800" stroke-width="2"/>
<path d="M505 147.8L509 155.2L501 155.2Z" fill="#00b800"/>
<path d="M577.24 144.9L581.24 152.3L573.24 152.3Z" fill="#00b800"/>
<path d="M601.4 149L605.4 156.4L597.4 156.4Z" fill="#00b800"/>
<path d="M623.44 147L627.44 154.4L619.44 154.4Z" fill="#00b800"/>
<path d="M647.6 135.8L651.6 143.2L643.6 143.2Z" fill="#00b800"/>
<path d="M669.64 145.9L673.64 153.3L665.64 153.3Z" fill="#00b800"/>
<path d="M679.89 142.9L683.89 150.3L675.89 150.3Z" fill="#00b800"/>
<path d="M693.8 137.8L697.8 145.2L689.8 145.2Z" fill="#00b800"/>
<path d="M715.84 127.6L719.84 135L711.84 135Z" fill="#00b800"/>
<line x1="505" y1="135" x2="505" y2="170" stroke="#f99c40" stroke-width="2"/><line x1="501.4" y1="135" x2="508.6" y2="135" stroke="#f99c40" stroke-width="2"/><line x1="501.4" y1="170" x2="508.6" y2="170" stroke="#f99c40" stroke-width="2"/>
<line x1="577" y1="139" x2="577" y2="170" stroke="#f99c40" stroke-width="2"/><line x1="573.4" y1="139" x2="580.6" y2="139" stroke="#f99c40" stroke-width="2"/><line x1="573.4" y1="170" x2="580.6" y2="170" stroke="#f99c40" stroke-width="2"/>
<line x1="601" y1="141" x2="601" y2="166" stroke="#f99c40" stroke-width="2"/><line x1="597.4" y1="141" x2="604.6" y2="141" stroke="#f99c40" stroke-width="2"/><line x1="597.4" y1="166" x2="604.6" y2="166" stroke="#f99c40" stroke-width="2"/>
<line x1="623" y1="140" x2="623" y2="177" stroke="#f99c40" stroke-width="2"/><line x1="619.4" y1="140" x2="626.6" y2="140" stroke="#f99c40" stroke-width="2"/><line x1="619.4" y1="177" x2="626.6" y2="177" stroke="#f99c40" stroke-width="2"/>
<line x1="648" y1="120" x2="648" y2="170" stroke="#f99c40" stroke-width="2"/><line x1="644.4" y1="120" x2="651.6" y2="120" stroke="#f99c40" stroke-width="2"/><line x1="644.4" y1="170" x2="651.6" y2="170" stroke="#f99c40" stroke-width="2"/>
<line x1="670" y1="134" x2="670" y2="170" stroke="#f99c40" stroke-width="2"/><line x1="666.4" y1="134" x2="673.6" y2="134" stroke="#f99c40" stroke-width="2"/><line x1="666.4" y1="170" x2="673.6" y2="170" stroke="#f99c40" stroke-width="2"/>
<line x1="680" y1="135" x2="680" y2="170" stroke="#f99c40" stroke-width="2"/><line x1="676.4" y1="135" x2="683.6" y2="135" stroke="#f99c40" stroke-width="2"/><line x1="676.4" y1="170" x2="683.6" y2="170" stroke="#f99c40" stroke-width="2"/>
<line x1="694" y1="117" x2="694" y2="167" stroke="#f99c40" stroke-width="2"/><line x1="690.4" y1="117" x2="697.6" y2="117" stroke="#f99c40" stroke-width="2"/><line x1="690.4" y1="167" x2="697.6" y2="167" stroke="#f99c40" stroke-width="2"/>
<line x1="716" y1="110" x2="716" y2="176" stroke="#f99c40" stroke-width="2"/><line x1="712.4" y1="110" x2="719.6" y2="110" stroke="#f99c40" stroke-width="2"/><line x1="712.4" y1="176" x2="719.6" y2="176" stroke="#f99c40" stroke-width="2"/>
<rect x="501.3" y="148.9" width="7.4" height="7.4" fill="#f99c40"/>
<rect x="573.54" y="151.1" width="7.4" height="7.4" fill="#f99c40"/>
<rect x="597.7" y="150.1" width="7.4" height="7.4" fill="#f99c40"/>
<rect x="619.74" y="154.2" width="7.4" height="7.4" fill="#f99c40"/>
<rect x="643.9" y="140.6" width="7.4" height="7.4" fill="#f99c40"/>
<rect x="665.94" y="149.1" width="7.4" height="7.4" fill="#f99c40"/>
<rect x="676.19" y="149.5" width="7.4" height="7.4" fill="#f99c40"/>
<rect x="690.1" y="138.3" width="7.4" height="7.4" fill="#f99c40"/>
<rect x="712.14" y="139.9" width="7.4" height="7.4" fill="#f99c40"/>
<line x1="486.9" y1="336" x2="486.9" y2="533.3" stroke="#000" stroke-width="1.8"/>
<line x1="744.5" y1="336" x2="744.5" y2="533.3" stroke="#000" stroke-width="1.8"/>
<line x1="482.9" y1="532.4" x2="486.9" y2="532.4" stroke="#000" stroke-width="1.8"/>
<text x="481.4" y="537.1" text-anchor="end" class="t">0</text>
<line x1="482.9" y1="483.52" x2="486.9" y2="483.52" stroke="#000" stroke-width="1.8"/>
<text x="481.4" y="488.22" text-anchor="end" class="t">50</text>
<line x1="482.9" y1="434.65" x2="486.9" y2="434.65" stroke="#000" stroke-width="1.8"/>
<text x="481.4" y="439.35" text-anchor="end" class="t">100</text>
<line x1="482.9" y1="385.77" x2="486.9" y2="385.77" stroke="#000" stroke-width="1.8"/>
<text x="481.4" y="390.47" text-anchor="end" class="t">150</text>
<line x1="482.9" y1="336.9" x2="486.9" y2="336.9" stroke="#000" stroke-width="1.8"/>
<text x="481.4" y="341.6" text-anchor="end" class="t">200</text>
<line x1="744.5" y1="532.4" x2="748.5" y2="532.4" stroke="#000" stroke-width="1.8"/>
<text x="750.5" y="536.7" class="t">0</text>
<line x1="744.5" y1="483.52" x2="748.5" y2="483.52" stroke="#000" stroke-width="1.8"/>
<text x="750.5" y="487.82" class="t">10</text>
<line x1="744.5" y1="434.65" x2="748.5" y2="434.65" stroke="#000" stroke-width="1.8"/>
<text x="750.5" y="438.95" class="t">20</text>
<line x1="744.5" y1="385.77" x2="748.5" y2="385.77" stroke="#000" stroke-width="1.8"/>
<text x="750.5" y="390.07" class="t">30</text>
<line x1="744.5" y1="336.9" x2="748.5" y2="336.9" stroke="#000" stroke-width="1.8"/>
<text x="750.5" y="341.2" class="t">40</text>
<line x1="486.9" y1="532.4" x2="524" y2="532.4" stroke="#000" stroke-width="1.8"/>
<line x1="524" y1="529.7" x2="524" y2="535.2" stroke="#000" stroke-width="1.8"/>
<line x1="505" y1="532.4" x2="505" y2="535.9" stroke="#000" stroke-width="1.8"/>
<text x="505" y="548.9" text-anchor="middle" class="t">0</text>
<line x1="532" y1="532.4" x2="744.5" y2="532.4" stroke="#000" stroke-width="1.8"/>
<line x1="532" y1="529.7" x2="532" y2="535.2" stroke="#000" stroke-width="1.8"/>
<line x1="555.1" y1="532.4" x2="555.1" y2="535.9" stroke="#000" stroke-width="1.8"/>
<text x="555.1" y="548.9" text-anchor="middle" class="t">0.1</text>
<line x1="569.01" y1="532.4" x2="569.01" y2="534.7" stroke="#000" stroke-width="1.2"/>
<line x1="577.14" y1="532.4" x2="577.14" y2="534.7" stroke="#000" stroke-width="1.2"/>
<line x1="536.72" y1="532.4" x2="536.72" y2="534.7" stroke="#000" stroke-width="1.2"/>
<line x1="582.92" y1="532.4" x2="582.92" y2="534.7" stroke="#000" stroke-width="1.2"/>
<line x1="541.19" y1="532.4" x2="541.19" y2="534.7" stroke="#000" stroke-width="1.2"/>
<line x1="587.39" y1="532.4" x2="587.39" y2="534.7" stroke="#000" stroke-width="1.2"/>
<line x1="544.85" y1="532.4" x2="544.85" y2="534.7" stroke="#000" stroke-width="1.2"/>
<line x1="591.05" y1="532.4" x2="591.05" y2="534.7" stroke="#000" stroke-width="1.2"/>
<line x1="547.94" y1="532.4" x2="547.94" y2="534.7" stroke="#000" stroke-width="1.2"/>
<line x1="594.14" y1="532.4" x2="594.14" y2="534.7" stroke="#000" stroke-width="1.2"/>
<line x1="550.62" y1="532.4" x2="550.62" y2="534.7" stroke="#000" stroke-width="1.2"/>
<line x1="596.82" y1="532.4" x2="596.82" y2="534.7" stroke="#000" stroke-width="1.2"/>
<line x1="552.99" y1="532.4" x2="552.99" y2="534.7" stroke="#000" stroke-width="1.2"/>
<line x1="599.19" y1="532.4" x2="599.19" y2="534.7" stroke="#000" stroke-width="1.2"/>
<line x1="601.3" y1="532.4" x2="601.3" y2="535.9" stroke="#000" stroke-width="1.8"/>
<text x="601.3" y="548.9" text-anchor="middle" class="t">1</text>
<line x1="569.01" y1="532.4" x2="569.01" y2="534.7" stroke="#000" stroke-width="1.2"/>
<line x1="615.21" y1="532.4" x2="615.21" y2="534.7" stroke="#000" stroke-width="1.2"/>
<line x1="577.14" y1="532.4" x2="577.14" y2="534.7" stroke="#000" stroke-width="1.2"/>
<line x1="623.34" y1="532.4" x2="623.34" y2="534.7" stroke="#000" stroke-width="1.2"/>
<line x1="582.92" y1="532.4" x2="582.92" y2="534.7" stroke="#000" stroke-width="1.2"/>
<line x1="629.12" y1="532.4" x2="629.12" y2="534.7" stroke="#000" stroke-width="1.2"/>
<line x1="587.39" y1="532.4" x2="587.39" y2="534.7" stroke="#000" stroke-width="1.2"/>
<line x1="633.59" y1="532.4" x2="633.59" y2="534.7" stroke="#000" stroke-width="1.2"/>
<line x1="591.05" y1="532.4" x2="591.05" y2="534.7" stroke="#000" stroke-width="1.2"/>
<line x1="637.25" y1="532.4" x2="637.25" y2="534.7" stroke="#000" stroke-width="1.2"/>
<line x1="594.14" y1="532.4" x2="594.14" y2="534.7" stroke="#000" stroke-width="1.2"/>
<line x1="640.34" y1="532.4" x2="640.34" y2="534.7" stroke="#000" stroke-width="1.2"/>
<line x1="596.82" y1="532.4" x2="596.82" y2="534.7" stroke="#000" stroke-width="1.2"/>
<line x1="643.02" y1="532.4" x2="643.02" y2="534.7" stroke="#000" stroke-width="1.2"/>
<line x1="599.19" y1="532.4" x2="599.19" y2="534.7" stroke="#000" stroke-width="1.2"/>
<line x1="645.39" y1="532.4" x2="645.39" y2="534.7" stroke="#000" stroke-width="1.2"/>
<line x1="647.5" y1="532.4" x2="647.5" y2="535.9" stroke="#000" stroke-width="1.8"/>
<text x="647.5" y="548.9" text-anchor="middle" class="t">10</text>
<line x1="615.21" y1="532.4" x2="615.21" y2="534.7" stroke="#000" stroke-width="1.2"/>
<line x1="661.41" y1="532.4" x2="661.41" y2="534.7" stroke="#000" stroke-width="1.2"/>
<line x1="623.34" y1="532.4" x2="623.34" y2="534.7" stroke="#000" stroke-width="1.2"/>
<line x1="669.54" y1="532.4" x2="669.54" y2="534.7" stroke="#000" stroke-width="1.2"/>
<line x1="629.12" y1="532.4" x2="629.12" y2="534.7" stroke="#000" stroke-width="1.2"/>
<line x1="675.32" y1="532.4" x2="675.32" y2="534.7" stroke="#000" stroke-width="1.2"/>
<line x1="633.59" y1="532.4" x2="633.59" y2="534.7" stroke="#000" stroke-width="1.2"/>
<line x1="679.79" y1="532.4" x2="679.79" y2="534.7" stroke="#000" stroke-width="1.2"/>
<line x1="637.25" y1="532.4" x2="637.25" y2="534.7" stroke="#000" stroke-width="1.2"/>
<line x1="683.45" y1="532.4" x2="683.45" y2="534.7" stroke="#000" stroke-width="1.2"/>
<line x1="640.34" y1="532.4" x2="640.34" y2="534.7" stroke="#000" stroke-width="1.2"/>
<line x1="686.54" y1="532.4" x2="686.54" y2="534.7" stroke="#000" stroke-width="1.2"/>
<line x1="643.02" y1="532.4" x2="643.02" y2="534.7" stroke="#000" stroke-width="1.2"/>
<line x1="689.22" y1="532.4" x2="689.22" y2="534.7" stroke="#000" stroke-width="1.2"/>
<line x1="645.39" y1="532.4" x2="645.39" y2="534.7" stroke="#000" stroke-width="1.2"/>
<line x1="691.59" y1="532.4" x2="691.59" y2="534.7" stroke="#000" stroke-width="1.2"/>
<line x1="693.7" y1="532.4" x2="693.7" y2="535.9" stroke="#000" stroke-width="1.8"/>
<text x="693.7" y="548.9" text-anchor="middle" class="t">100</text>
<line x1="661.41" y1="532.4" x2="661.41" y2="534.7" stroke="#000" stroke-width="1.2"/>
<line x1="707.61" y1="532.4" x2="707.61" y2="534.7" stroke="#000" stroke-width="1.2"/>
<line x1="669.54" y1="532.4" x2="669.54" y2="534.7" stroke="#000" stroke-width="1.2"/>
<line x1="715.74" y1="532.4" x2="715.74" y2="534.7" stroke="#000" stroke-width="1.2"/>
<line x1="675.32" y1="532.4" x2="675.32" y2="534.7" stroke="#000" stroke-width="1.2"/>
<line x1="721.52" y1="532.4" x2="721.52" y2="534.7" stroke="#000" stroke-width="1.2"/>
<line x1="679.79" y1="532.4" x2="679.79" y2="534.7" stroke="#000" stroke-width="1.2"/>
<line x1="725.99" y1="532.4" x2="725.99" y2="534.7" stroke="#000" stroke-width="1.2"/>
<line x1="683.45" y1="532.4" x2="683.45" y2="534.7" stroke="#000" stroke-width="1.2"/>
<line x1="729.65" y1="532.4" x2="729.65" y2="534.7" stroke="#000" stroke-width="1.2"/>
<line x1="686.54" y1="532.4" x2="686.54" y2="534.7" stroke="#000" stroke-width="1.2"/>
<line x1="732.74" y1="532.4" x2="732.74" y2="534.7" stroke="#000" stroke-width="1.2"/>
<line x1="689.22" y1="532.4" x2="689.22" y2="534.7" stroke="#000" stroke-width="1.2"/>
<line x1="735.42" y1="532.4" x2="735.42" y2="534.7" stroke="#000" stroke-width="1.2"/>
<line x1="691.59" y1="532.4" x2="691.59" y2="534.7" stroke="#000" stroke-width="1.2"/>
<line x1="737.79" y1="532.4" x2="737.79" y2="534.7" stroke="#000" stroke-width="1.2"/>
<line x1="739.9" y1="532.4" x2="739.9" y2="535.9" stroke="#000" stroke-width="1.8"/>
<text x="739.9" y="548.9" text-anchor="middle" class="t">1000</text>
<line x1="707.61" y1="532.4" x2="707.61" y2="534.7" stroke="#000" stroke-width="1.2"/>
<line x1="715.74" y1="532.4" x2="715.74" y2="534.7" stroke="#000" stroke-width="1.2"/>
<line x1="721.52" y1="532.4" x2="721.52" y2="534.7" stroke="#000" stroke-width="1.2"/>
<line x1="725.99" y1="532.4" x2="725.99" y2="534.7" stroke="#000" stroke-width="1.2"/>
<line x1="729.65" y1="532.4" x2="729.65" y2="534.7" stroke="#000" stroke-width="1.2"/>
<line x1="732.74" y1="532.4" x2="732.74" y2="534.7" stroke="#000" stroke-width="1.2"/>
<line x1="735.42" y1="532.4" x2="735.42" y2="534.7" stroke="#000" stroke-width="1.2"/>
<line x1="737.79" y1="532.4" x2="737.79" y2="534.7" stroke="#000" stroke-width="1.2"/>
<text transform="translate(452.9,431.75) rotate(-90)" text-anchor="middle" style="font-size:12.3px">% Control (ATP &amp; Albumin)</text>
<text transform="translate(774.2,431.8) rotate(90)" text-anchor="middle" style="font-size:12.0px">Fold miR-122 release</text>
<text x="615.2" y="571.8" text-anchor="middle" style="font-size:12.5px">FIAU Concentration (µM)</text>
<text x="399.7" y="321.6" class="pl">(F)</text>
<path d="M505 527.4L523.7 527.4" fill="none" stroke="#a900e6" stroke-width="2.4"/>
<path d="M532.3 527.19L534.59 527.19L536.89 527.18L539.18 527.17L541.47 527.16L543.77 527.15L546.06 527.14L548.35 527.13L550.64 527.12L552.94 527.11L555.23 527.1L557.52 527.09L559.82 527.08L562.11 527.07L564.4 527.06L566.7 527.05L568.99 527.04L571.28 527.03L573.57 527.02L575.87 527.01L578.16 526.99L580.45 526.96L582.75 526.92L585.04 526.86L587.33 526.79L589.63 526.71L591.92 526.63L594.21 526.53L596.51 526.43L598.8 526.32L601.09 526.21L603.38 526.09L605.68 525.93L607.97 525.76L610.26 525.56L612.56 525.35L614.85 525.13L617.14 524.91L619.44 524.68L621.73 524.45L624.02 524.24L626.31 524.01L628.61 523.76L630.9 523.51L633.19 523.25L635.49 523L637.78 522.74L640.07 522.49L642.37 522.26L644.66 522.04L646.95 521.84L649.24 521.66L651.54 521.49L653.83 521.31L656.12 521.15L658.42 520.99L660.71 520.84L663 520.71L665.3 520.58L667.59 520.48L669.88 520.39L672.18 520.31L674.47 520.24L676.76 520.18L679.05 520.12L681.35 520.06L683.64 520.01L685.93 519.96L688.23 519.91L690.52 519.87L692.81 519.82L695.11 519.77L697.4 519.72L699.69 519.68L701.98 519.63L704.28 519.59L706.57 519.55L708.86 519.51L711.16 519.47L713.45 519.44L715.74 519.4" fill="none" stroke="#a900e6" stroke-width="2.4" stroke-linejoin="round"/>
<path d="M505 431.1L523.7 431.1" fill="none" stroke="#f99c40" stroke-width="2.6"/>
<path d="M532.3 431.1L534.59 431.1L536.89 431.1L539.18 431.1L541.47 431.1L543.77 431.1L546.06 431.1L548.35 431.1L550.64 431.1L552.94 431.1L555.23 431.1L557.52 431.1L559.82 431.1L562.11 431.1L564.4 431.1L566.7 431.1L568.99 431.1L571.28 431.1L573.57 431.1L575.87 431.1L578.16 431.1L580.45 431.1L582.75 431.1L585.04 431.1L587.33 431.1L589.63 431.1L591.92 431.1L594.21 431.1L596.51 431.1L598.8 431.1L601.09 431.1L603.38 431.1L605.68 431.1L607.97 431.1L610.26 431.1L612.56 431.1L614.85 431.1L617.14 431.1L619.44 431.1L621.73 431.1L624.02 431.1L626.31 431.1L628.61 431.1L630.9 431.1L633.19 431.1L635.49 431.1L637.78 431.1L640.07 431.1L642.37 431.1L644.66 431.1L646.95 431.1L649.24 431.1L651.54 431.1L653.83 431.11L656.12 431.12L658.42 431.13L660.71 431.14L663 431.15L665.3 431.17L667.59 431.19L669.88 431.21L672.18 431.23L674.47 431.25L676.76 431.27L679.05 431.29L681.35 431.32L683.64 431.35L685.93 431.39L688.23 431.44L690.52 431.5L692.81 431.57L695.11 431.67L697.4 431.84L699.69 432.09L701.98 432.38L704.28 432.7L706.57 433.05L708.86 433.4L711.16 433.82L713.45 434.29L715.74 434.8" fill="none" stroke="#f99c40" stroke-width="2.6" stroke-linejoin="round"/>
<line x1="577" y1="518" x2="577" y2="530" stroke="#a900e6" stroke-width="2"/><line x1="573.4" y1="518" x2="580.6" y2="518" stroke="#a900e6" stroke-width="2"/><line x1="573.4" y1="530" x2="580.6" y2="530" stroke="#a900e6" stroke-width="2"/>
<line x1="623" y1="521" x2="623" y2="527" stroke="#a900e6" stroke-width="2"/><line x1="619.4" y1="521" x2="626.6" y2="521" stroke="#a900e6" stroke-width="2"/><line x1="619.4" y1="527" x2="626.6" y2="527" stroke="#a900e6" stroke-width="2"/>
<line x1="648" y1="517" x2="648" y2="526" stroke="#a900e6" stroke-width="2"/><line x1="644.4" y1="517" x2="651.6" y2="517" stroke="#a900e6" stroke-width="2"/><line x1="644.4" y1="526" x2="651.6" y2="526" stroke="#a900e6" stroke-width="2"/>
<line x1="670" y1="513" x2="670" y2="527" stroke="#a900e6" stroke-width="2"/><line x1="666.4" y1="513" x2="673.6" y2="513" stroke="#a900e6" stroke-width="2"/><line x1="666.4" y1="527" x2="673.6" y2="527" stroke="#a900e6" stroke-width="2"/>
<line x1="694" y1="510" x2="694" y2="529" stroke="#a900e6" stroke-width="2"/><line x1="690.4" y1="510" x2="697.6" y2="510" stroke="#a900e6" stroke-width="2"/><line x1="690.4" y1="529" x2="697.6" y2="529" stroke="#a900e6" stroke-width="2"/>
<line x1="716" y1="515" x2="716" y2="523" stroke="#a900e6" stroke-width="2"/><line x1="712.4" y1="515" x2="719.6" y2="515" stroke="#a900e6" stroke-width="2"/><line x1="712.4" y1="523" x2="719.6" y2="523" stroke="#a900e6" stroke-width="2"/>
<circle cx="505" cy="527.4" r="3.6" fill="#a900e6"/>
<circle cx="577.14" cy="524.2" r="3.6" fill="#a900e6"/>
<circle cx="601.3" cy="526.9" r="3.6" fill="#a900e6"/>
<circle cx="623.34" cy="524.3" r="3.6" fill="#a900e6"/>
<circle cx="647.5" cy="521.5" r="3.6" fill="#a900e6"/>
<circle cx="669.54" cy="520.3" r="3.6" fill="#a900e6"/>
<circle cx="693.7" cy="519.9" r="3.6" fill="#a900e6"/>
<circle cx="715.74" cy="519.2" r="3.6" fill="#a900e6"/>
<line x1="505" y1="410" x2="505" y2="458" stroke="#00b800" stroke-width="2"/><line x1="501.4" y1="410" x2="508.6" y2="410" stroke="#00b800" stroke-width="2"/><line x1="501.4" y1="458" x2="508.6" y2="458" stroke="#00b800" stroke-width="2"/>
<line x1="577" y1="420" x2="577" y2="447" stroke="#00b800" stroke-width="2"/><line x1="573.4" y1="420" x2="580.6" y2="420" stroke="#00b800" stroke-width="2"/><line x1="573.4" y1="447" x2="580.6" y2="447" stroke="#00b800" stroke-width="2"/>
<line x1="601" y1="434" x2="601" y2="450" stroke="#00b800" stroke-width="2"/><line x1="597.4" y1="434" x2="604.6" y2="434" stroke="#00b800" stroke-width="2"/><line x1="597.4" y1="450" x2="604.6" y2="450" stroke="#00b800" stroke-width="2"/>
<line x1="623" y1="420" x2="623" y2="452" stroke="#00b800" stroke-width="2"/><line x1="619.4" y1="420" x2="626.6" y2="420" stroke="#00b800" stroke-width="2"/><line x1="619.4" y1="452" x2="626.6" y2="452" stroke="#00b800" stroke-width="2"/>
<line x1="648" y1="418" x2="648" y2="439" stroke="#00b800" stroke-width="2"/><line x1="644.4" y1="418" x2="651.6" y2="418" stroke="#00b800" stroke-width="2"/><line x1="644.4" y1="439" x2="651.6" y2="439" stroke="#00b800" stroke-width="2"/>
<line x1="670" y1="421" x2="670" y2="456" stroke="#00b800" stroke-width="2"/><line x1="666.4" y1="421" x2="673.6" y2="421" stroke="#00b800" stroke-width="2"/><line x1="666.4" y1="456" x2="673.6" y2="456" stroke="#00b800" stroke-width="2"/>
<line x1="680" y1="412" x2="680" y2="427" stroke="#00b800" stroke-width="2"/><line x1="676.4" y1="412" x2="683.6" y2="412" stroke="#00b800" stroke-width="2"/><line x1="676.4" y1="427" x2="683.6" y2="427" stroke="#00b800" stroke-width="2"/>
<line x1="694" y1="414" x2="694" y2="451" stroke="#00b800" stroke-width="2"/><line x1="690.4" y1="414" x2="697.6" y2="414" stroke="#00b800" stroke-width="2"/><line x1="690.4" y1="451" x2="697.6" y2="451" stroke="#00b800" stroke-width="2"/>
<line x1="716" y1="372" x2="716" y2="446" stroke="#00b800" stroke-width="2"/><line x1="712.4" y1="372" x2="719.6" y2="372" stroke="#00b800" stroke-width="2"/><line x1="712.4" y1="446" x2="719.6" y2="446" stroke="#00b800" stroke-width="2"/>
<path d="M505 429.8L509 437.2L501 437.2Z" fill="#00b800"/>
<path d="M577.14 429.8L581.14 437.2L573.14 437.2Z" fill="#00b800"/>
<path d="M601.3 437.7L605.3 445.1L597.3 445.1Z" fill="#00b800"/>
<path d="M623.34 431.8L627.34 439.2L619.34 439.2Z" fill="#00b800"/>
<path d="M647.5 424.7L651.5 432.1L643.5 432.1Z" fill="#00b800"/>
<path d="M669.54 435.7L673.54 443.1L665.54 443.1Z" fill="#00b800"/>
<path d="M679.79 416.6L683.79 424L675.79 424Z" fill="#00b800"/>
<path d="M693.7 427.8L697.7 435.2L689.7 435.2Z" fill="#00b800"/>
<path d="M715.74 405.4L719.74 412.8L711.74 412.8Z" fill="#00b800"/>
<line x1="505" y1="418" x2="505" y2="451" stroke="#f99c40" stroke-width="2"/><line x1="501.4" y1="418" x2="508.6" y2="418" stroke="#f99c40" stroke-width="2"/><line x1="501.4" y1="451" x2="508.6" y2="451" stroke="#f99c40" stroke-width="2"/>
<line x1="577" y1="410" x2="577" y2="444" stroke="#f99c40" stroke-width="2"/><line x1="573.4" y1="410" x2="580.6" y2="410" stroke="#f99c40" stroke-width="2"/><line x1="573.4" y1="444" x2="580.6" y2="444" stroke="#f99c40" stroke-width="2"/>
<line x1="601" y1="407" x2="601" y2="448" stroke="#f99c40" stroke-width="2"/><line x1="597.4" y1="407" x2="604.6" y2="407" stroke="#f99c40" stroke-width="2"/><line x1="597.4" y1="448" x2="604.6" y2="448" stroke="#f99c40" stroke-width="2"/>
<line x1="623" y1="411" x2="623" y2="460" stroke="#f99c40" stroke-width="2"/><line x1="619.4" y1="411" x2="626.6" y2="411" stroke="#f99c40" stroke-width="2"/><line x1="619.4" y1="460" x2="626.6" y2="460" stroke="#f99c40" stroke-width="2"/>
<line x1="648" y1="416" x2="648" y2="449" stroke="#f99c40" stroke-width="2"/><line x1="644.4" y1="416" x2="651.6" y2="416" stroke="#f99c40" stroke-width="2"/><line x1="644.4" y1="449" x2="651.6" y2="449" stroke="#f99c40" stroke-width="2"/>
<line x1="670" y1="406" x2="670" y2="461" stroke="#f99c40" stroke-width="2"/><line x1="666.4" y1="406" x2="673.6" y2="406" stroke="#f99c40" stroke-width="2"/><line x1="666.4" y1="461" x2="673.6" y2="461" stroke="#f99c40" stroke-width="2"/>
<line x1="680" y1="404" x2="680" y2="427" stroke="#f99c40" stroke-width="2"/><line x1="676.4" y1="404" x2="683.6" y2="404" stroke="#f99c40" stroke-width="2"/><line x1="676.4" y1="427" x2="683.6" y2="427" stroke="#f99c40" stroke-width="2"/>
<line x1="694" y1="406" x2="694" y2="456" stroke="#f99c40" stroke-width="2"/><line x1="690.4" y1="406" x2="697.6" y2="406" stroke="#f99c40" stroke-width="2"/><line x1="690.4" y1="456" x2="697.6" y2="456" stroke="#f99c40" stroke-width="2"/>
<line x1="716" y1="396" x2="716" y2="474" stroke="#f99c40" stroke-width="2"/><line x1="712.4" y1="396" x2="719.6" y2="396" stroke="#f99c40" stroke-width="2"/><line x1="712.4" y1="474" x2="719.6" y2="474" stroke="#f99c40" stroke-width="2"/>
<rect x="501.3" y="430.1" width="7.4" height="7.4" fill="#f99c40"/>
<rect x="573.44" y="423.8" width="7.4" height="7.4" fill="#f99c40"/>
<rect x="597.6" y="423.9" width="7.4" height="7.4" fill="#f99c40"/>
<rect x="619.64" y="430.6" width="7.4" height="7.4" fill="#f99c40"/>
<rect x="643.8" y="429" width="7.4" height="7.4" fill="#f99c40"/>
<rect x="665.84" y="429.8" width="7.4" height="7.4" fill="#f99c40"/>
<rect x="676.09" y="412" width="7.4" height="7.4" fill="#f99c40"/>
<rect x="690" y="427.8" width="7.4" height="7.4" fill="#f99c40"/>
<rect x="712.04" y="431.3" width="7.4" height="7.4" fill="#f99c40"/>
<line x1="481.4" y1="619.2" x2="481.4" y2="816" stroke="#000" stroke-width="1.8"/>
<line x1="738.3" y1="619.2" x2="738.3" y2="816" stroke="#000" stroke-width="1.8"/>
<line x1="477.4" y1="815.1" x2="481.4" y2="815.1" stroke="#000" stroke-width="1.8"/>
<text x="475.9" y="819.8" text-anchor="end" class="t">0</text>
<line x1="477.4" y1="766.35" x2="481.4" y2="766.35" stroke="#000" stroke-width="1.8"/>
<text x="475.9" y="771.05" text-anchor="end" class="t">50</text>
<line x1="477.4" y1="717.6" x2="481.4" y2="717.6" stroke="#000" stroke-width="1.8"/>
<text x="475.9" y="722.3" text-anchor="end" class="t">100</text>
<line x1="477.4" y1="668.85" x2="481.4" y2="668.85" stroke="#000" stroke-width="1.8"/>
<text x="475.9" y="673.55" text-anchor="end" class="t">150</text>
<line x1="477.4" y1="620.1" x2="481.4" y2="620.1" stroke="#000" stroke-width="1.8"/>
<text x="475.9" y="624.8" text-anchor="end" class="t">200</text>
<line x1="738.3" y1="815.1" x2="742.3" y2="815.1" stroke="#000" stroke-width="1.8"/>
<text x="744.3" y="819.4" class="t">0</text>
<line x1="738.3" y1="766.35" x2="742.3" y2="766.35" stroke="#000" stroke-width="1.8"/>
<text x="744.3" y="770.65" class="t">10</text>
<line x1="738.3" y1="717.6" x2="742.3" y2="717.6" stroke="#000" stroke-width="1.8"/>
<text x="744.3" y="721.9" class="t">20</text>
<line x1="738.3" y1="668.85" x2="742.3" y2="668.85" stroke="#000" stroke-width="1.8"/>
<text x="744.3" y="673.15" class="t">30</text>
<line x1="738.3" y1="620.1" x2="742.3" y2="620.1" stroke="#000" stroke-width="1.8"/>
<text x="744.3" y="624.4" class="t">40</text>
<line x1="481.4" y1="815.1" x2="518" y2="815.1" stroke="#000" stroke-width="1.8"/>
<line x1="518" y1="812.4" x2="518" y2="817.9" stroke="#000" stroke-width="1.8"/>
<line x1="499.7" y1="815.1" x2="499.7" y2="818.6" stroke="#000" stroke-width="1.8"/>
<text x="499.7" y="831.6" text-anchor="middle" class="t">0</text>
<line x1="527.2" y1="815.1" x2="738.3" y2="815.1" stroke="#000" stroke-width="1.8"/>
<line x1="527.2" y1="812.4" x2="527.2" y2="817.9" stroke="#000" stroke-width="1.8"/>
<line x1="550.2" y1="815.1" x2="550.2" y2="818.6" stroke="#000" stroke-width="1.8"/>
<text x="550.2" y="831.6" text-anchor="middle" class="t">0.1</text>
<line x1="564.02" y1="815.1" x2="564.02" y2="817.4" stroke="#000" stroke-width="1.2"/>
<line x1="572.1" y1="815.1" x2="572.1" y2="817.4" stroke="#000" stroke-width="1.2"/>
<line x1="531.93" y1="815.1" x2="531.93" y2="817.4" stroke="#000" stroke-width="1.2"/>
<line x1="577.83" y1="815.1" x2="577.83" y2="817.4" stroke="#000" stroke-width="1.2"/>
<line x1="536.38" y1="815.1" x2="536.38" y2="817.4" stroke="#000" stroke-width="1.2"/>
<line x1="582.28" y1="815.1" x2="582.28" y2="817.4" stroke="#000" stroke-width="1.2"/>
<line x1="540.02" y1="815.1" x2="540.02" y2="817.4" stroke="#000" stroke-width="1.2"/>
<line x1="585.92" y1="815.1" x2="585.92" y2="817.4" stroke="#000" stroke-width="1.2"/>
<line x1="543.09" y1="815.1" x2="543.09" y2="817.4" stroke="#000" stroke-width="1.2"/>
<line x1="588.99" y1="815.1" x2="588.99" y2="817.4" stroke="#000" stroke-width="1.2"/>
<line x1="545.75" y1="815.1" x2="545.75" y2="817.4" stroke="#000" stroke-width="1.2"/>
<line x1="591.65" y1="815.1" x2="591.65" y2="817.4" stroke="#000" stroke-width="1.2"/>
<line x1="548.1" y1="815.1" x2="548.1" y2="817.4" stroke="#000" stroke-width="1.2"/>
<line x1="594" y1="815.1" x2="594" y2="817.4" stroke="#000" stroke-width="1.2"/>
<line x1="596.1" y1="815.1" x2="596.1" y2="818.6" stroke="#000" stroke-width="1.8"/>
<text x="596.1" y="831.6" text-anchor="middle" class="t">1</text>
<line x1="564.02" y1="815.1" x2="564.02" y2="817.4" stroke="#000" stroke-width="1.2"/>
<line x1="609.92" y1="815.1" x2="609.92" y2="817.4" stroke="#000" stroke-width="1.2"/>
<line x1="572.1" y1="815.1" x2="572.1" y2="817.4" stroke="#000" stroke-width="1.2"/>
<line x1="618" y1="815.1" x2="618" y2="817.4" stroke="#000" stroke-width="1.2"/>
<line x1="577.83" y1="815.1" x2="577.83" y2="817.4" stroke="#000" stroke-width="1.2"/>
<line x1="623.73" y1="815.1" x2="623.73" y2="817.4" stroke="#000" stroke-width="1.2"/>
<line x1="582.28" y1="815.1" x2="582.28" y2="817.4" stroke="#000" stroke-width="1.2"/>
<line x1="628.18" y1="815.1" x2="628.18" y2="817.4" stroke="#000" stroke-width="1.2"/>
<line x1="585.92" y1="815.1" x2="585.92" y2="817.4" stroke="#000" stroke-width="1.2"/>
<line x1="631.82" y1="815.1" x2="631.82" y2="817.4" stroke="#000" stroke-width="1.2"/>
<line x1="588.99" y1="815.1" x2="588.99" y2="817.4" stroke="#000" stroke-width="1.2"/>
<line x1="634.89" y1="815.1" x2="634.89" y2="817.4" stroke="#000" stroke-width="1.2"/>
<line x1="591.65" y1="815.1" x2="591.65" y2="817.4" stroke="#000" stroke-width="1.2"/>
<line x1="637.55" y1="815.1" x2="637.55" y2="817.4" stroke="#000" stroke-width="1.2"/>
<line x1="594" y1="815.1" x2="594" y2="817.4" stroke="#000" stroke-width="1.2"/>
<line x1="639.9" y1="815.1" x2="639.9" y2="817.4" stroke="#000" stroke-width="1.2"/>
<line x1="642" y1="815.1" x2="642" y2="818.6" stroke="#000" stroke-width="1.8"/>
<text x="642" y="831.6" text-anchor="middle" class="t">10</text>
<line x1="609.92" y1="815.1" x2="609.92" y2="817.4" stroke="#000" stroke-width="1.2"/>
<line x1="655.82" y1="815.1" x2="655.82" y2="817.4" stroke="#000" stroke-width="1.2"/>
<line x1="618" y1="815.1" x2="618" y2="817.4" stroke="#000" stroke-width="1.2"/>
<line x1="663.9" y1="815.1" x2="663.9" y2="817.4" stroke="#000" stroke-width="1.2"/>
<line x1="623.73" y1="815.1" x2="623.73" y2="817.4" stroke="#000" stroke-width="1.2"/>
<line x1="669.63" y1="815.1" x2="669.63" y2="817.4" stroke="#000" stroke-width="1.2"/>
<line x1="628.18" y1="815.1" x2="628.18" y2="817.4" stroke="#000" stroke-width="1.2"/>
<line x1="674.08" y1="815.1" x2="674.08" y2="817.4" stroke="#000" stroke-width="1.2"/>
<line x1="631.82" y1="815.1" x2="631.82" y2="817.4" stroke="#000" stroke-width="1.2"/>
<line x1="677.72" y1="815.1" x2="677.72" y2="817.4" stroke="#000" stroke-width="1.2"/>
<line x1="634.89" y1="815.1" x2="634.89" y2="817.4" stroke="#000" stroke-width="1.2"/>
<line x1="680.79" y1="815.1" x2="680.79" y2="817.4" stroke="#000" stroke-width="1.2"/>
<line x1="637.55" y1="815.1" x2="637.55" y2="817.4" stroke="#000" stroke-width="1.2"/>
<line x1="683.45" y1="815.1" x2="683.45" y2="817.4" stroke="#000" stroke-width="1.2"/>
<line x1="639.9" y1="815.1" x2="639.9" y2="817.4" stroke="#000" stroke-width="1.2"/>
<line x1="685.8" y1="815.1" x2="685.8" y2="817.4" stroke="#000" stroke-width="1.2"/>
<line x1="687.9" y1="815.1" x2="687.9" y2="818.6" stroke="#000" stroke-width="1.8"/>
<text x="687.9" y="831.6" text-anchor="middle" class="t">100</text>
<line x1="655.82" y1="815.1" x2="655.82" y2="817.4" stroke="#000" stroke-width="1.2"/>
<line x1="701.72" y1="815.1" x2="701.72" y2="817.4" stroke="#000" stroke-width="1.2"/>
<line x1="663.9" y1="815.1" x2="663.9" y2="817.4" stroke="#000" stroke-width="1.2"/>
<line x1="709.8" y1="815.1" x2="709.8" y2="817.4" stroke="#000" stroke-width="1.2"/>
<line x1="669.63" y1="815.1" x2="669.63" y2="817.4" stroke="#000" stroke-width="1.2"/>
<line x1="715.53" y1="815.1" x2="715.53" y2="817.4" stroke="#000" stroke-width="1.2"/>
<line x1="674.08" y1="815.1" x2="674.08" y2="817.4" stroke="#000" stroke-width="1.2"/>
<line x1="719.98" y1="815.1" x2="719.98" y2="817.4" stroke="#000" stroke-width="1.2"/>
<line x1="677.72" y1="815.1" x2="677.72" y2="817.4" stroke="#000" stroke-width="1.2"/>
<line x1="723.62" y1="815.1" x2="723.62" y2="817.4" stroke="#000" stroke-width="1.2"/>
<line x1="680.79" y1="815.1" x2="680.79" y2="817.4" stroke="#000" stroke-width="1.2"/>
<line x1="726.69" y1="815.1" x2="726.69" y2="817.4" stroke="#000" stroke-width="1.2"/>
<line x1="683.45" y1="815.1" x2="683.45" y2="817.4" stroke="#000" stroke-width="1.2"/>
<line x1="729.35" y1="815.1" x2="729.35" y2="817.4" stroke="#000" stroke-width="1.2"/>
<line x1="685.8" y1="815.1" x2="685.8" y2="817.4" stroke="#000" stroke-width="1.2"/>
<line x1="731.7" y1="815.1" x2="731.7" y2="817.4" stroke="#000" stroke-width="1.2"/>
<line x1="733.8" y1="815.1" x2="733.8" y2="818.6" stroke="#000" stroke-width="1.8"/>
<text x="733.8" y="831.6" text-anchor="middle" class="t">1000</text>
<line x1="701.72" y1="815.1" x2="701.72" y2="817.4" stroke="#000" stroke-width="1.2"/>
<line x1="709.8" y1="815.1" x2="709.8" y2="817.4" stroke="#000" stroke-width="1.2"/>
<line x1="715.53" y1="815.1" x2="715.53" y2="817.4" stroke="#000" stroke-width="1.2"/>
<line x1="719.98" y1="815.1" x2="719.98" y2="817.4" stroke="#000" stroke-width="1.2"/>
<line x1="723.62" y1="815.1" x2="723.62" y2="817.4" stroke="#000" stroke-width="1.2"/>
<line x1="726.69" y1="815.1" x2="726.69" y2="817.4" stroke="#000" stroke-width="1.2"/>
<line x1="729.35" y1="815.1" x2="729.35" y2="817.4" stroke="#000" stroke-width="1.2"/>
<line x1="731.7" y1="815.1" x2="731.7" y2="817.4" stroke="#000" stroke-width="1.2"/>
<text transform="translate(450.3,714.45) rotate(-90)" text-anchor="middle" style="font-size:12.3px">% Control (ATP &amp; Albumin)</text>
<text transform="translate(767.2,715.35) rotate(90)" text-anchor="middle" style="font-size:12.0px">Fold miR-122 release</text>
<text x="610" y="854.6" text-anchor="middle" style="font-size:12.4px">FIAU Concentration (µM)</text>
<text x="399.7" y="612.2" class="pl">(G)</text>
<path d="M499.7 811.21L517.7 811.21" fill="none" stroke="#a900e6" stroke-width="2.4"/>
<path d="M527.5 811.19L529.78 811.18L532.06 811.18L534.34 811.18L536.61 811.17L538.89 811.17L541.17 811.17L543.45 811.16L545.73 811.16L548.01 811.15L550.29 811.15L552.57 811.14L554.84 811.13L557.12 811.12L559.4 811.11L561.68 811.1L563.96 811.09L566.24 811.08L568.52 811.07L570.8 811.05L573.07 811.03L575.35 811.02L577.63 811L579.91 810.97L582.19 810.95L584.47 810.92L586.75 810.89L589.03 810.85L591.3 810.82L593.58 810.78L595.86 810.73L598.14 810.68L600.42 810.62L602.7 810.56L604.98 810.49L607.26 810.41L609.53 810.33L611.81 810.23L614.09 810.13L616.37 810.01L618.65 809.89L620.93 809.75L623.21 809.59L625.49 809.42L627.76 809.23L630.04 809.02L632.32 808.78L634.6 808.53L636.88 808.24L639.16 807.93L641.44 807.58L643.72 807.19L645.99 806.77L648.27 806.3L650.55 805.78L652.83 805.21L655.11 804.57L657.39 803.88L659.67 803.11L661.95 802.26L664.22 801.32L666.5 800.29L668.78 799.15L671.06 797.9L673.34 796.52L675.62 795L677.9 793.33L680.18 791.5L682.45 789.49L684.73 787.29L687.01 784.88L689.29 782.24L691.57 779.35L693.85 776.19L696.13 772.76L698.41 769.02L700.68 764.95L702.96 760.53L705.24 755.76L707.52 750.59L709.8 745.02" fill="none" stroke="#a900e6" stroke-width="2.4" stroke-linejoin="round"/>
<path d="M499.7 714.17L517.7 714.17" fill="none" stroke="#00b800" stroke-width="2.6"/>
<path d="M527.5 714.18L529.78 714.18L532.06 714.18L534.34 714.18L536.61 714.18L538.89 714.18L541.17 714.19L543.45 714.19L545.73 714.19L548.01 714.19L550.29 714.2L552.57 714.2L554.84 714.2L557.12 714.21L559.4 714.21L561.68 714.22L563.96 714.22L566.24 714.23L568.52 714.24L570.8 714.25L573.07 714.26L575.35 714.27L577.63 714.28L579.91 714.3L582.19 714.32L584.47 714.33L586.75 714.36L589.03 714.38L591.3 714.41L593.58 714.44L595.86 714.48L598.14 714.52L600.42 714.56L602.7 714.61L604.98 714.67L607.26 714.73L609.53 714.81L611.81 714.89L614.09 714.98L616.37 715.09L618.65 715.21L620.93 715.34L623.21 715.49L625.49 715.66L627.76 715.85L630.04 716.06L632.32 716.3L634.6 716.56L636.88 716.86L639.16 717.19L641.44 717.56L643.72 717.96L645.99 718.42L648.27 718.91L650.55 719.46L652.83 720.07L655.11 720.73L657.39 721.45L659.67 722.23L661.95 723.07L664.22 723.97L666.5 724.94L668.78 725.97L671.06 727.06L673.34 728.21L675.62 729.4L677.9 730.64L680.18 731.91L682.45 733.22L684.73 734.53L687.01 735.86L689.29 737.19L691.57 738.5L693.85 739.79L696.13 741.05L698.41 742.27L700.68 743.44L702.96 744.57L705.24 745.63L707.52 746.63L709.8 747.58" fill="none" stroke="#00b800" stroke-width="2.6" stroke-linejoin="round"/>
<path d="M499.7 710.39L517.7 710.39" fill="none" stroke="#f99c40" stroke-width="2.6"/>
<path d="M527.5 710.41L529.78 710.42L532.06 710.42L534.34 710.42L536.61 710.43L538.89 710.43L541.17 710.44L543.45 710.44L545.73 710.45L548.01 710.45L550.29 710.46L552.57 710.47L554.84 710.48L557.12 710.49L559.4 710.5L561.68 710.51L563.96 710.53L566.24 710.54L568.52 710.56L570.8 710.58L573.07 710.6L575.35 710.62L577.63 710.65L579.91 710.68L582.19 710.71L584.47 710.74L586.75 710.78L589.03 710.83L591.3 710.87L593.58 710.93L595.86 710.98L598.14 711.05L600.42 711.12L602.7 711.2L604.98 711.29L607.26 711.39L609.53 711.5L611.81 711.62L614.09 711.75L616.37 711.9L618.65 712.06L620.93 712.24L623.21 712.44L625.49 712.66L627.76 712.9L630.04 713.17L632.32 713.47L634.6 713.79L636.88 714.15L639.16 714.54L641.44 714.97L643.72 715.45L645.99 715.96L648.27 716.53L650.55 717.15L652.83 717.82L655.11 718.56L657.39 719.36L659.67 720.22L661.95 721.16L664.22 722.17L666.5 723.25L668.78 724.42L671.06 725.67L673.34 726.99L675.62 728.41L677.9 729.9L680.18 731.47L682.45 733.13L684.73 734.86L687.01 736.65L689.29 738.51L691.57 740.43L693.85 742.4L696.13 744.4L698.41 746.43L700.68 748.48L702.96 750.54L705.24 752.59L707.52 754.63L709.8 756.64" fill="none" stroke="#f99c40" stroke-width="2.6" stroke-linejoin="round"/>
<line x1="618" y1="807" x2="618" y2="814" stroke="#a900e6" stroke-width="2"/><line x1="614.4" y1="807" x2="621.6" y2="807" stroke="#a900e6" stroke-width="2"/><line x1="614.4" y1="814" x2="621.6" y2="814" stroke="#a900e6" stroke-width="2"/>
<line x1="664" y1="790" x2="664" y2="811" stroke="#a900e6" stroke-width="2"/><line x1="660.4" y1="790" x2="667.6" y2="790" stroke="#a900e6" stroke-width="2"/><line x1="660.4" y1="811" x2="667.6" y2="811" stroke="#a900e6" stroke-width="2"/>
<line x1="688" y1="761" x2="688" y2="808" stroke="#a900e6" stroke-width="2"/><line x1="684.4" y1="761" x2="691.6" y2="761" stroke="#a900e6" stroke-width="2"/><line x1="684.4" y1="808" x2="691.6" y2="808" stroke="#a900e6" stroke-width="2"/>
<line x1="710" y1="708" x2="710" y2="782" stroke="#a900e6" stroke-width="2"/><line x1="706.4" y1="708" x2="713.6" y2="708" stroke="#a900e6" stroke-width="2"/><line x1="706.4" y1="782" x2="713.6" y2="782" stroke="#a900e6" stroke-width="2"/>
<circle cx="499.7" cy="810.1" r="3.6" fill="#a900e6"/>
<circle cx="572.1" cy="811.4" r="3.6" fill="#a900e6"/>
<circle cx="596.1" cy="810.4" r="3.6" fill="#a900e6"/>
<circle cx="618" cy="810.2" r="3.6" fill="#a900e6"/>
<circle cx="642" cy="809.7" r="3.6" fill="#a900e6"/>
<circle cx="663.9" cy="800.6" r="3.6" fill="#a900e6"/>
<circle cx="687.9" cy="784.1" r="3.6" fill="#a900e6"/>
<circle cx="709.8" cy="745" r="3.6" fill="#a900e6"/>
<line x1="500" y1="702" x2="500" y2="733" stroke="#00b800" stroke-width="2"/><line x1="496.4" y1="702" x2="503.6" y2="702" stroke="#00b800" stroke-width="2"/><line x1="496.4" y1="733" x2="503.6" y2="733" stroke="#00b800" stroke-width="2"/>
<line x1="572" y1="702" x2="572" y2="733" stroke="#00b800" stroke-width="2"/><line x1="568.4" y1="702" x2="575.6" y2="702" stroke="#00b800" stroke-width="2"/><line x1="568.4" y1="733" x2="575.6" y2="733" stroke="#00b800" stroke-width="2"/>
<line x1="596" y1="704" x2="596" y2="724" stroke="#00b800" stroke-width="2"/><line x1="592.4" y1="704" x2="599.6" y2="704" stroke="#00b800" stroke-width="2"/><line x1="592.4" y1="724" x2="599.6" y2="724" stroke="#00b800" stroke-width="2"/>
<line x1="618" y1="704" x2="618" y2="726" stroke="#00b800" stroke-width="2"/><line x1="614.4" y1="704" x2="621.6" y2="704" stroke="#00b800" stroke-width="2"/><line x1="614.4" y1="726" x2="621.6" y2="726" stroke="#00b800" stroke-width="2"/>
<line x1="642" y1="697" x2="642" y2="726" stroke="#00b800" stroke-width="2"/><line x1="638.4" y1="697" x2="645.6" y2="697" stroke="#00b800" stroke-width="2"/><line x1="638.4" y1="726" x2="645.6" y2="726" stroke="#00b800" stroke-width="2"/>
<line x1="664" y1="710" x2="664" y2="743" stroke="#00b800" stroke-width="2"/><line x1="660.4" y1="710" x2="667.6" y2="710" stroke="#00b800" stroke-width="2"/><line x1="660.4" y1="743" x2="667.6" y2="743" stroke="#00b800" stroke-width="2"/>
<line x1="674" y1="719" x2="674" y2="732" stroke="#00b800" stroke-width="2"/><line x1="670.4" y1="719" x2="677.6" y2="719" stroke="#00b800" stroke-width="2"/><line x1="670.4" y1="732" x2="677.6" y2="732" stroke="#00b800" stroke-width="2"/>
<line x1="688" y1="717" x2="688" y2="762" stroke="#00b800" stroke-width="2"/><line x1="684.4" y1="717" x2="691.6" y2="717" stroke="#00b800" stroke-width="2"/><line x1="684.4" y1="762" x2="691.6" y2="762" stroke="#00b800" stroke-width="2"/>
<line x1="710" y1="726" x2="710" y2="766" stroke="#00b800" stroke-width="2"/><line x1="706.4" y1="726" x2="713.6" y2="726" stroke="#00b800" stroke-width="2"/><line x1="706.4" y1="766" x2="713.6" y2="766" stroke="#00b800" stroke-width="2"/>
<path d="M499.7 713.8L503.7 721.2L495.7 721.2Z" fill="#00b800"/>
<path d="M572.1 713.6L576.1 721L568.1 721Z" fill="#00b800"/>
<path d="M596.1 709.8L600.1 717.2L592.1 717.2Z" fill="#00b800"/>
<path d="M618 710.7L622 718.1L614 718.1Z" fill="#00b800"/>
<path d="M642 707.3L646 714.7L638 714.7Z" fill="#00b800"/>
<path d="M663.9 724.3L667.9 731.7L659.9 731.7Z" fill="#00b800"/>
<path d="M674.08 722.5L678.08 729.9L670.08 729.9Z" fill="#00b800"/>
<path d="M687.9 735.5L691.9 742.9L683.9 742.9Z" fill="#00b800"/>
<path d="M709.8 743.4L713.8 750.8L705.8 750.8Z" fill="#00b800"/>
<line x1="500" y1="698" x2="500" y2="738" stroke="#f99c40" stroke-width="2"/><line x1="496.4" y1="698" x2="503.6" y2="698" stroke="#f99c40" stroke-width="2"/><line x1="496.4" y1="738" x2="503.6" y2="738" stroke="#f99c40" stroke-width="2"/>
<line x1="572" y1="684" x2="572" y2="736" stroke="#f99c40" stroke-width="2"/><line x1="568.4" y1="684" x2="575.6" y2="684" stroke="#f99c40" stroke-width="2"/><line x1="568.4" y1="736" x2="575.6" y2="736" stroke="#f99c40" stroke-width="2"/>
<line x1="596" y1="681" x2="596" y2="742" stroke="#f99c40" stroke-width="2"/><line x1="592.4" y1="681" x2="599.6" y2="681" stroke="#f99c40" stroke-width="2"/><line x1="592.4" y1="742" x2="599.6" y2="742" stroke="#f99c40" stroke-width="2"/>
<line x1="618" y1="667" x2="618" y2="740" stroke="#f99c40" stroke-width="2"/><line x1="614.4" y1="667" x2="621.6" y2="667" stroke="#f99c40" stroke-width="2"/><line x1="614.4" y1="740" x2="621.6" y2="740" stroke="#f99c40" stroke-width="2"/>
<line x1="642" y1="684" x2="642" y2="742" stroke="#f99c40" stroke-width="2"/><line x1="638.4" y1="684" x2="645.6" y2="684" stroke="#f99c40" stroke-width="2"/><line x1="638.4" y1="742" x2="645.6" y2="742" stroke="#f99c40" stroke-width="2"/>
<line x1="664" y1="694" x2="664" y2="755" stroke="#f99c40" stroke-width="2"/><line x1="660.4" y1="694" x2="667.6" y2="694" stroke="#f99c40" stroke-width="2"/><line x1="660.4" y1="755" x2="667.6" y2="755" stroke="#f99c40" stroke-width="2"/>
<line x1="674" y1="741" x2="674" y2="755" stroke="#f99c40" stroke-width="2"/><line x1="670.4" y1="741" x2="677.6" y2="741" stroke="#f99c40" stroke-width="2"/><line x1="670.4" y1="755" x2="677.6" y2="755" stroke="#f99c40" stroke-width="2"/>
<line x1="688" y1="692" x2="688" y2="774" stroke="#f99c40" stroke-width="2"/><line x1="684.4" y1="692" x2="691.6" y2="692" stroke="#f99c40" stroke-width="2"/><line x1="684.4" y1="774" x2="691.6" y2="774" stroke="#f99c40" stroke-width="2"/>
<line x1="710" y1="706" x2="710" y2="812" stroke="#f99c40" stroke-width="2"/><line x1="706.4" y1="706" x2="713.6" y2="706" stroke="#f99c40" stroke-width="2"/><line x1="706.4" y1="812" x2="713.6" y2="812" stroke="#f99c40" stroke-width="2"/>
<rect x="496" y="714.1" width="7.4" height="7.4" fill="#f99c40"/>
<rect x="568.4" y="706.6" width="7.4" height="7.4" fill="#f99c40"/>
<rect x="592.4" y="708" width="7.4" height="7.4" fill="#f99c40"/>
<rect x="614.3" y="699.5" width="7.4" height="7.4" fill="#f99c40"/>
<rect x="638.3" y="709.1" width="7.4" height="7.4" fill="#f99c40"/>
<rect x="660.2" y="720.9" width="7.4" height="7.4" fill="#f99c40"/>
<rect x="670.38" y="744.4" width="7.4" height="7.4" fill="#f99c40"/>
<rect x="684.2" y="730" width="7.4" height="7.4" fill="#f99c40"/>
<rect x="706.1" y="755.6" width="7.4" height="7.4" fill="#f99c40"/>
<line x1="483" y1="901.6" x2="483" y2="1098.85" stroke="#000" stroke-width="1.8"/>
<line x1="740.4" y1="901.6" x2="740.4" y2="1098.85" stroke="#000" stroke-width="1.8"/>
<line x1="479" y1="1097.95" x2="483" y2="1097.95" stroke="#000" stroke-width="1.8"/>
<text x="477.5" y="1102.65" text-anchor="end" class="t">0</text>
<line x1="479" y1="1049.09" x2="483" y2="1049.09" stroke="#000" stroke-width="1.8"/>
<text x="477.5" y="1053.79" text-anchor="end" class="t">50</text>
<line x1="479" y1="1000.23" x2="483" y2="1000.23" stroke="#000" stroke-width="1.8"/>
<text x="477.5" y="1004.93" text-anchor="end" class="t">100</text>
<line x1="479" y1="951.36" x2="483" y2="951.36" stroke="#000" stroke-width="1.8"/>
<text x="477.5" y="956.06" text-anchor="end" class="t">150</text>
<line x1="479" y1="902.5" x2="483" y2="902.5" stroke="#000" stroke-width="1.8"/>
<text x="477.5" y="907.2" text-anchor="end" class="t">200</text>
<line x1="740.4" y1="1097.95" x2="744.4" y2="1097.95" stroke="#000" stroke-width="1.8"/>
<text x="746.4" y="1102.25" class="t">0</text>
<line x1="740.4" y1="1049.09" x2="744.4" y2="1049.09" stroke="#000" stroke-width="1.8"/>
<text x="746.4" y="1053.39" class="t">10</text>
<line x1="740.4" y1="1000.23" x2="744.4" y2="1000.23" stroke="#000" stroke-width="1.8"/>
<text x="746.4" y="1004.52" class="t">20</text>
<line x1="740.4" y1="951.36" x2="744.4" y2="951.36" stroke="#000" stroke-width="1.8"/>
<text x="746.4" y="955.66" class="t">30</text>
<line x1="740.4" y1="902.5" x2="744.4" y2="902.5" stroke="#000" stroke-width="1.8"/>
<text x="746.4" y="906.8" class="t">40</text>
<line x1="483" y1="1097.95" x2="519.7" y2="1097.95" stroke="#000" stroke-width="1.8"/>
<line x1="519.7" y1="1095.25" x2="519.7" y2="1100.75" stroke="#000" stroke-width="1.8"/>
<line x1="501.6" y1="1097.95" x2="501.6" y2="1101.45" stroke="#000" stroke-width="1.8"/>
<text x="501.6" y="1114.45" text-anchor="middle" class="t">0</text>
<line x1="529.1" y1="1097.95" x2="740.4" y2="1097.95" stroke="#000" stroke-width="1.8"/>
<line x1="529.1" y1="1095.25" x2="529.1" y2="1100.75" stroke="#000" stroke-width="1.8"/>
<line x1="551.3" y1="1097.95" x2="551.3" y2="1101.45" stroke="#000" stroke-width="1.8"/>
<text x="551.3" y="1114.45" text-anchor="middle" class="t">0.1</text>
<line x1="565.18" y1="1097.95" x2="565.18" y2="1100.25" stroke="#000" stroke-width="1.2"/>
<line x1="573.3" y1="1097.95" x2="573.3" y2="1100.25" stroke="#000" stroke-width="1.2"/>
<line x1="532.95" y1="1097.95" x2="532.95" y2="1100.25" stroke="#000" stroke-width="1.2"/>
<line x1="579.05" y1="1097.95" x2="579.05" y2="1100.25" stroke="#000" stroke-width="1.2"/>
<line x1="537.42" y1="1097.95" x2="537.42" y2="1100.25" stroke="#000" stroke-width="1.2"/>
<line x1="583.52" y1="1097.95" x2="583.52" y2="1100.25" stroke="#000" stroke-width="1.2"/>
<line x1="541.07" y1="1097.95" x2="541.07" y2="1100.25" stroke="#000" stroke-width="1.2"/>
<line x1="587.17" y1="1097.95" x2="587.17" y2="1100.25" stroke="#000" stroke-width="1.2"/>
<line x1="544.16" y1="1097.95" x2="544.16" y2="1100.25" stroke="#000" stroke-width="1.2"/>
<line x1="590.26" y1="1097.95" x2="590.26" y2="1100.25" stroke="#000" stroke-width="1.2"/>
<line x1="546.83" y1="1097.95" x2="546.83" y2="1100.25" stroke="#000" stroke-width="1.2"/>
<line x1="592.93" y1="1097.95" x2="592.93" y2="1100.25" stroke="#000" stroke-width="1.2"/>
<line x1="549.19" y1="1097.95" x2="549.19" y2="1100.25" stroke="#000" stroke-width="1.2"/>
<line x1="595.29" y1="1097.95" x2="595.29" y2="1100.25" stroke="#000" stroke-width="1.2"/>
<line x1="597.4" y1="1097.95" x2="597.4" y2="1101.45" stroke="#000" stroke-width="1.8"/>
<text x="597.4" y="1114.45" text-anchor="middle" class="t">1</text>
<line x1="565.18" y1="1097.95" x2="565.18" y2="1100.25" stroke="#000" stroke-width="1.2"/>
<line x1="611.28" y1="1097.95" x2="611.28" y2="1100.25" stroke="#000" stroke-width="1.2"/>
<line x1="573.3" y1="1097.95" x2="573.3" y2="1100.25" stroke="#000" stroke-width="1.2"/>
<line x1="619.4" y1="1097.95" x2="619.4" y2="1100.25" stroke="#000" stroke-width="1.2"/>
<line x1="579.05" y1="1097.95" x2="579.05" y2="1100.25" stroke="#000" stroke-width="1.2"/>
<line x1="625.15" y1="1097.95" x2="625.15" y2="1100.25" stroke="#000" stroke-width="1.2"/>
<line x1="583.52" y1="1097.95" x2="583.52" y2="1100.25" stroke="#000" stroke-width="1.2"/>
<line x1="629.62" y1="1097.95" x2="629.62" y2="1100.25" stroke="#000" stroke-width="1.2"/>
<line x1="587.17" y1="1097.95" x2="587.17" y2="1100.25" stroke="#000" stroke-width="1.2"/>
<line x1="633.27" y1="1097.95" x2="633.27" y2="1100.25" stroke="#000" stroke-width="1.2"/>
<line x1="590.26" y1="1097.95" x2="590.26" y2="1100.25" stroke="#000" stroke-width="1.2"/>
<line x1="636.36" y1="1097.95" x2="636.36" y2="1100.25" stroke="#000" stroke-width="1.2"/>
<line x1="592.93" y1="1097.95" x2="592.93" y2="1100.25" stroke="#000" stroke-width="1.2"/>
<line x1="639.03" y1="1097.95" x2="639.03" y2="1100.25" stroke="#000" stroke-width="1.2"/>
<line x1="595.29" y1="1097.95" x2="595.29" y2="1100.25" stroke="#000" stroke-width="1.2"/>
<line x1="641.39" y1="1097.95" x2="641.39" y2="1100.25" stroke="#000" stroke-width="1.2"/>
<line x1="643.5" y1="1097.95" x2="643.5" y2="1101.45" stroke="#000" stroke-width="1.8"/>
<text x="643.5" y="1114.45" text-anchor="middle" class="t">10</text>
<line x1="611.28" y1="1097.95" x2="611.28" y2="1100.25" stroke="#000" stroke-width="1.2"/>
<line x1="657.38" y1="1097.95" x2="657.38" y2="1100.25" stroke="#000" stroke-width="1.2"/>
<line x1="619.4" y1="1097.95" x2="619.4" y2="1100.25" stroke="#000" stroke-width="1.2"/>
<line x1="665.5" y1="1097.95" x2="665.5" y2="1100.25" stroke="#000" stroke-width="1.2"/>
<line x1="625.15" y1="1097.95" x2="625.15" y2="1100.25" stroke="#000" stroke-width="1.2"/>
<line x1="671.25" y1="1097.95" x2="671.25" y2="1100.25" stroke="#000" stroke-width="1.2"/>
<line x1="629.62" y1="1097.95" x2="629.62" y2="1100.25" stroke="#000" stroke-width="1.2"/>
<line x1="675.72" y1="1097.95" x2="675.72" y2="1100.25" stroke="#000" stroke-width="1.2"/>
<line x1="633.27" y1="1097.95" x2="633.27" y2="1100.25" stroke="#000" stroke-width="1.2"/>
<line x1="679.37" y1="1097.95" x2="679.37" y2="1100.25" stroke="#000" stroke-width="1.2"/>
<line x1="636.36" y1="1097.95" x2="636.36" y2="1100.25" stroke="#000" stroke-width="1.2"/>
<line x1="682.46" y1="1097.95" x2="682.46" y2="1100.25" stroke="#000" stroke-width="1.2"/>
<line x1="639.03" y1="1097.95" x2="639.03" y2="1100.25" stroke="#000" stroke-width="1.2"/>
<line x1="685.13" y1="1097.95" x2="685.13" y2="1100.25" stroke="#000" stroke-width="1.2"/>
<line x1="641.39" y1="1097.95" x2="641.39" y2="1100.25" stroke="#000" stroke-width="1.2"/>
<line x1="687.49" y1="1097.95" x2="687.49" y2="1100.25" stroke="#000" stroke-width="1.2"/>
<line x1="689.6" y1="1097.95" x2="689.6" y2="1101.45" stroke="#000" stroke-width="1.8"/>
<text x="689.6" y="1114.45" text-anchor="middle" class="t">100</text>
<line x1="657.38" y1="1097.95" x2="657.38" y2="1100.25" stroke="#000" stroke-width="1.2"/>
<line x1="703.48" y1="1097.95" x2="703.48" y2="1100.25" stroke="#000" stroke-width="1.2"/>
<line x1="665.5" y1="1097.95" x2="665.5" y2="1100.25" stroke="#000" stroke-width="1.2"/>
<line x1="711.6" y1="1097.95" x2="711.6" y2="1100.25" stroke="#000" stroke-width="1.2"/>
<line x1="671.25" y1="1097.95" x2="671.25" y2="1100.25" stroke="#000" stroke-width="1.2"/>
<line x1="717.35" y1="1097.95" x2="717.35" y2="1100.25" stroke="#000" stroke-width="1.2"/>
<line x1="675.72" y1="1097.95" x2="675.72" y2="1100.25" stroke="#000" stroke-width="1.2"/>
<line x1="721.82" y1="1097.95" x2="721.82" y2="1100.25" stroke="#000" stroke-width="1.2"/>
<line x1="679.37" y1="1097.95" x2="679.37" y2="1100.25" stroke="#000" stroke-width="1.2"/>
<line x1="725.47" y1="1097.95" x2="725.47" y2="1100.25" stroke="#000" stroke-width="1.2"/>
<line x1="682.46" y1="1097.95" x2="682.46" y2="1100.25" stroke="#000" stroke-width="1.2"/>
<line x1="728.56" y1="1097.95" x2="728.56" y2="1100.25" stroke="#000" stroke-width="1.2"/>
<line x1="685.13" y1="1097.95" x2="685.13" y2="1100.25" stroke="#000" stroke-width="1.2"/>
<line x1="731.23" y1="1097.95" x2="731.23" y2="1100.25" stroke="#000" stroke-width="1.2"/>
<line x1="687.49" y1="1097.95" x2="687.49" y2="1100.25" stroke="#000" stroke-width="1.2"/>
<line x1="733.59" y1="1097.95" x2="733.59" y2="1100.25" stroke="#000" stroke-width="1.2"/>
<line x1="735.7" y1="1097.95" x2="735.7" y2="1101.45" stroke="#000" stroke-width="1.8"/>
<text x="735.7" y="1114.45" text-anchor="middle" class="t">1000</text>
<line x1="703.48" y1="1097.95" x2="703.48" y2="1100.25" stroke="#000" stroke-width="1.2"/>
<line x1="711.6" y1="1097.95" x2="711.6" y2="1100.25" stroke="#000" stroke-width="1.2"/>
<line x1="717.35" y1="1097.95" x2="717.35" y2="1100.25" stroke="#000" stroke-width="1.2"/>
<line x1="721.82" y1="1097.95" x2="721.82" y2="1100.25" stroke="#000" stroke-width="1.2"/>
<line x1="725.47" y1="1097.95" x2="725.47" y2="1100.25" stroke="#000" stroke-width="1.2"/>
<line x1="728.56" y1="1097.95" x2="728.56" y2="1100.25" stroke="#000" stroke-width="1.2"/>
<line x1="731.23" y1="1097.95" x2="731.23" y2="1100.25" stroke="#000" stroke-width="1.2"/>
<line x1="733.59" y1="1097.95" x2="733.59" y2="1100.25" stroke="#000" stroke-width="1.2"/>
<text transform="translate(450.3,997.8) rotate(-90)" text-anchor="middle" style="font-size:12.2px">% Control (ATP &amp; Albumin)</text>
<text transform="translate(769.8,997.8) rotate(90)" text-anchor="middle" style="font-size:12.0px">Fold miR-122 release</text>
<text x="611.5" y="1137.4" text-anchor="middle" style="font-size:12.4px">FIAU Concentration (µM)</text>
<text x="398.6" y="887.7" class="pl">(H)</text>
<path d="M501.6 1094.37L519.4 1094.37" fill="none" stroke="#bb00c2" stroke-width="2.4"/>
<path d="M529.4 1094.06L531.68 1094.04L533.95 1094.01L536.23 1093.99L538.51 1093.96L540.79 1093.92L543.06 1093.89L545.34 1093.85L547.62 1093.81L549.9 1093.77L552.17 1093.72L554.45 1093.67L556.73 1093.62L559.01 1093.56L561.28 1093.49L563.56 1093.43L565.84 1093.35L568.12 1093.27L570.39 1093.19L572.67 1093.1L574.95 1093L577.23 1092.89L579.5 1092.78L581.78 1092.65L584.06 1092.52L586.34 1092.38L588.61 1092.22L590.89 1092.06L593.17 1091.88L595.45 1091.69L597.72 1091.48L600 1091.26L602.28 1091.02L604.56 1090.76L606.83 1090.48L609.11 1090.18L611.39 1089.85L613.67 1089.5L615.94 1089.13L618.22 1088.72L620.5 1088.29L622.78 1087.82L625.05 1087.32L627.33 1086.78L629.61 1086.19L631.88 1085.56L634.16 1084.89L636.44 1084.16L638.72 1083.38L640.99 1082.54L643.27 1081.63L645.55 1080.66L647.83 1079.61L650.1 1078.48L652.38 1077.27L654.66 1075.97L656.94 1074.58L659.21 1073.07L661.49 1071.46L663.77 1069.73L666.05 1067.87L668.32 1065.87L670.6 1063.73L672.88 1061.43L675.16 1058.97L677.43 1056.32L679.71 1053.49L681.99 1050.46L684.27 1047.21L686.54 1043.73L688.82 1040.02L691.1 1036.04L693.38 1031.79L695.65 1027.26L697.93 1022.42L700.21 1017.25L702.49 1011.75L704.76 1005.89L707.04 999.66L709.32 993.03L711.6 985.99" fill="none" stroke="#bb00c2" stroke-width="2.4" stroke-linejoin="round"/>
<path d="M501.6 998.54L519.4 998.54" fill="none" stroke="#00b800" stroke-width="2.6"/>
<path d="M529.4 998.79L531.68 998.81L533.95 998.84L536.23 998.86L538.51 998.89L540.79 998.92L543.06 998.95L545.34 998.99L547.62 999.02L549.9 999.07L552.17 999.11L554.45 999.16L556.73 999.21L559.01 999.27L561.28 999.33L563.56 999.4L565.84 999.48L568.12 999.56L570.39 999.64L572.67 999.74L574.95 999.84L577.23 999.95L579.5 1000.07L581.78 1000.2L584.06 1000.34L586.34 1000.49L588.61 1000.66L590.89 1000.84L593.17 1001.03L595.45 1001.24L597.72 1001.46L600 1001.71L602.28 1001.97L604.56 1002.26L606.83 1002.56L609.11 1002.9L611.39 1003.25L613.67 1003.64L615.94 1004.06L618.22 1004.51L620.5 1004.99L622.78 1005.51L625.05 1006.06L627.33 1006.66L629.61 1007.3L631.88 1007.99L634.16 1008.72L636.44 1009.5L638.72 1010.34L640.99 1011.23L643.27 1012.19L645.55 1013.2L647.83 1014.27L650.1 1015.4L652.38 1016.6L654.66 1017.87L656.94 1019.21L659.21 1020.61L661.49 1022.08L663.77 1023.62L666.05 1025.23L668.32 1026.9L670.6 1028.64L672.88 1030.44L675.16 1032.3L677.43 1034.21L679.71 1036.17L681.99 1038.18L684.27 1040.23L686.54 1042.32L688.82 1044.43L691.1 1046.56L693.38 1048.71L695.65 1050.86L697.93 1053.02L700.21 1055.16L702.49 1057.3L704.76 1059.4L707.04 1061.49L709.32 1063.53L711.6 1065.53" fill="none" stroke="#00b800" stroke-width="2.6" stroke-linejoin="round"/>
<path d="M501.6 1001.32L519.4 1001.32" fill="none" stroke="#f99c40" stroke-width="2.6"/>
<path d="M529.4 1001.36L531.68 1001.36L533.95 1001.37L536.23 1001.37L538.51 1001.38L540.79 1001.38L543.06 1001.39L545.34 1001.4L547.62 1001.41L549.9 1001.42L552.17 1001.43L554.45 1001.44L556.73 1001.45L559.01 1001.47L561.28 1001.49L563.56 1001.51L565.84 1001.53L568.12 1001.55L570.39 1001.58L572.67 1001.61L574.95 1001.64L577.23 1001.68L579.5 1001.72L581.78 1001.77L584.06 1001.82L586.34 1001.88L588.61 1001.95L590.89 1002.02L593.17 1002.1L595.45 1002.19L597.72 1002.29L600 1002.41L602.28 1002.53L604.56 1002.67L606.83 1002.83L609.11 1003.01L611.39 1003.2L613.67 1003.42L615.94 1003.66L618.22 1003.93L620.5 1004.23L622.78 1004.56L625.05 1004.93L627.33 1005.35L629.61 1005.8L631.88 1006.31L634.16 1006.87L636.44 1007.49L638.72 1008.18L640.99 1008.93L643.27 1009.77L645.55 1010.69L647.83 1011.7L650.1 1012.8L652.38 1014.01L654.66 1015.34L656.94 1016.78L659.21 1018.35L661.49 1020.05L663.77 1021.88L666.05 1023.86L668.32 1025.98L670.6 1028.25L672.88 1030.66L675.16 1033.21L677.43 1035.91L679.71 1038.74L681.99 1041.7L684.27 1044.77L686.54 1047.94L688.82 1051.19L691.1 1054.52L693.38 1057.89L695.65 1061.29L697.93 1064.7L700.21 1068.1L702.49 1071.46L704.76 1074.77L707.04 1078.01L709.32 1081.15L711.6 1084.2" fill="none" stroke="#f99c40" stroke-width="2.6" stroke-linejoin="round"/>
<line x1="665" y1="1052" x2="665" y2="1077" stroke="#a900e6" stroke-width="2"/><line x1="661.4" y1="1052" x2="668.6" y2="1052" stroke="#a900e6" stroke-width="2"/><line x1="661.4" y1="1077" x2="668.6" y2="1077" stroke="#a900e6" stroke-width="2"/>
<line x1="690" y1="1009" x2="690" y2="1075" stroke="#a900e6" stroke-width="2"/><line x1="686.4" y1="1009" x2="693.6" y2="1009" stroke="#a900e6" stroke-width="2"/><line x1="686.4" y1="1075" x2="693.6" y2="1075" stroke="#a900e6" stroke-width="2"/>
<line x1="712" y1="932" x2="712" y2="1039" stroke="#a900e6" stroke-width="2"/><line x1="708.4" y1="932" x2="715.6" y2="932" stroke="#a900e6" stroke-width="2"/><line x1="708.4" y1="1039" x2="715.6" y2="1039" stroke="#a900e6" stroke-width="2"/>
<circle cx="501.6" cy="1092.7" r="3.6" fill="#bb00c2"/>
<circle cx="573.3" cy="1092.2" r="3.6" fill="#bb00c2"/>
<circle cx="597.4" cy="1091.5" r="3.6" fill="#bb00c2"/>
<circle cx="619.4" cy="1088.1" r="3.6" fill="#bb00c2"/>
<circle cx="643.5" cy="1086.3" r="3.6" fill="#bb00c2"/>
<circle cx="665.5" cy="1064.9" r="3.6" fill="#bb00c2"/>
<circle cx="689.6" cy="1041.9" r="3.6" fill="#bb00c2"/>
<circle cx="711.6" cy="985.8" r="3.6" fill="#bb00c2"/>
<line x1="502" y1="984" x2="502" y2="1017" stroke="#00b800" stroke-width="2"/><line x1="498.4" y1="984" x2="505.6" y2="984" stroke="#00b800" stroke-width="2"/><line x1="498.4" y1="1017" x2="505.6" y2="1017" stroke="#00b800" stroke-width="2"/>
<line x1="573" y1="986" x2="573" y2="1019" stroke="#00b800" stroke-width="2"/><line x1="569.4" y1="986" x2="576.6" y2="986" stroke="#00b800" stroke-width="2"/><line x1="569.4" y1="1019" x2="576.6" y2="1019" stroke="#00b800" stroke-width="2"/>
<line x1="597" y1="983" x2="597" y2="1005" stroke="#00b800" stroke-width="2"/><line x1="593.4" y1="983" x2="600.6" y2="983" stroke="#00b800" stroke-width="2"/><line x1="593.4" y1="1005" x2="600.6" y2="1005" stroke="#00b800" stroke-width="2"/>
<line x1="619" y1="993" x2="619" y2="1016" stroke="#00b800" stroke-width="2"/><line x1="615.4" y1="993" x2="622.6" y2="993" stroke="#00b800" stroke-width="2"/><line x1="615.4" y1="1016" x2="622.6" y2="1016" stroke="#00b800" stroke-width="2"/>
<line x1="644" y1="998" x2="644" y2="1027" stroke="#00b800" stroke-width="2"/><line x1="640.4" y1="998" x2="647.6" y2="998" stroke="#00b800" stroke-width="2"/><line x1="640.4" y1="1027" x2="647.6" y2="1027" stroke="#00b800" stroke-width="2"/>
<line x1="665" y1="1020" x2="665" y2="1040" stroke="#00b800" stroke-width="2"/><line x1="661.4" y1="1020" x2="668.6" y2="1020" stroke="#00b800" stroke-width="2"/><line x1="661.4" y1="1040" x2="668.6" y2="1040" stroke="#00b800" stroke-width="2"/>
<line x1="690" y1="1031" x2="690" y2="1062" stroke="#00b800" stroke-width="2"/><line x1="686.4" y1="1031" x2="693.6" y2="1031" stroke="#00b800" stroke-width="2"/><line x1="686.4" y1="1062" x2="693.6" y2="1062" stroke="#00b800" stroke-width="2"/>
<line x1="712" y1="1057" x2="712" y2="1072" stroke="#00b800" stroke-width="2"/><line x1="708.4" y1="1057" x2="715.6" y2="1057" stroke="#00b800" stroke-width="2"/><line x1="708.4" y1="1072" x2="715.6" y2="1072" stroke="#00b800" stroke-width="2"/>
<path d="M501.6 996.2L505.6 1003.6L497.6 1003.6Z" fill="#00b800"/>
<path d="M573.3 998.2L577.3 1005.6L569.3 1005.6Z" fill="#00b800"/>
<path d="M597.4 990.7L601.4 998.1L593.4 998.1Z" fill="#00b800"/>
<path d="M619.4 1000.1L623.4 1007.5L615.4 1007.5Z" fill="#00b800"/>
<path d="M643.5 1008.2L647.5 1015.6L639.5 1015.6Z" fill="#00b800"/>
<path d="M665.5 1026L669.5 1033.4L661.5 1033.4Z" fill="#00b800"/>
<path d="M675.72 1024.7L679.72 1032.1L671.72 1032.1Z" fill="#00b800"/>
<path d="M689.6 1039L693.6 1046.4L685.6 1046.4Z" fill="#00b800"/>
<path d="M711.6 1061.2L715.6 1068.6L707.6 1068.6Z" fill="#00b800"/>
<line x1="502" y1="962" x2="502" y2="1038" stroke="#f99c40" stroke-width="2"/><line x1="498.4" y1="962" x2="505.6" y2="962" stroke="#f99c40" stroke-width="2"/><line x1="498.4" y1="1038" x2="505.6" y2="1038" stroke="#f99c40" stroke-width="2"/>
<line x1="573" y1="973" x2="573" y2="1037" stroke="#f99c40" stroke-width="2"/><line x1="569.4" y1="973" x2="576.6" y2="973" stroke="#f99c40" stroke-width="2"/><line x1="569.4" y1="1037" x2="576.6" y2="1037" stroke="#f99c40" stroke-width="2"/>
<line x1="597" y1="971" x2="597" y2="1034" stroke="#f99c40" stroke-width="2"/><line x1="593.4" y1="971" x2="600.6" y2="971" stroke="#f99c40" stroke-width="2"/><line x1="593.4" y1="1034" x2="600.6" y2="1034" stroke="#f99c40" stroke-width="2"/>
<line x1="619" y1="965" x2="619" y2="1043" stroke="#f99c40" stroke-width="2"/><line x1="615.4" y1="965" x2="622.6" y2="965" stroke="#f99c40" stroke-width="2"/><line x1="615.4" y1="1043" x2="622.6" y2="1043" stroke="#f99c40" stroke-width="2"/>
<line x1="644" y1="976" x2="644" y2="1033" stroke="#f99c40" stroke-width="2"/><line x1="640.4" y1="976" x2="647.6" y2="976" stroke="#f99c40" stroke-width="2"/><line x1="640.4" y1="1033" x2="647.6" y2="1033" stroke="#f99c40" stroke-width="2"/>
<line x1="665" y1="996" x2="665" y2="1052" stroke="#f99c40" stroke-width="2"/><line x1="661.4" y1="996" x2="668.6" y2="996" stroke="#f99c40" stroke-width="2"/><line x1="661.4" y1="1052" x2="668.6" y2="1052" stroke="#f99c40" stroke-width="2"/>
<line x1="676" y1="1058" x2="676" y2="1074" stroke="#f99c40" stroke-width="2"/><line x1="672.4" y1="1058" x2="679.6" y2="1058" stroke="#f99c40" stroke-width="2"/><line x1="672.4" y1="1074" x2="679.6" y2="1074" stroke="#f99c40" stroke-width="2"/>
<line x1="690" y1="1015" x2="690" y2="1089" stroke="#f99c40" stroke-width="2"/><line x1="686.4" y1="1015" x2="693.6" y2="1015" stroke="#f99c40" stroke-width="2"/><line x1="686.4" y1="1089" x2="693.6" y2="1089" stroke="#f99c40" stroke-width="2"/>
<line x1="712" y1="1073" x2="712" y2="1098" stroke="#f99c40" stroke-width="2"/><line x1="708.4" y1="1073" x2="715.6" y2="1073" stroke="#f99c40" stroke-width="2"/><line x1="708.4" y1="1098" x2="715.6" y2="1098" stroke="#f99c40" stroke-width="2"/>
<rect x="497.9" y="996.7" width="7.4" height="7.4" fill="#f99c40"/>
<rect x="569.6" y="1001.6" width="7.4" height="7.4" fill="#f99c40"/>
<rect x="593.7" y="999.2" width="7.4" height="7.4" fill="#f99c40"/>
<rect x="615.7" y="1000.4" width="7.4" height="7.4" fill="#f99c40"/>
<rect x="639.8" y="1001.1" width="7.4" height="7.4" fill="#f99c40"/>
<rect x="661.8" y="1021.4" width="7.4" height="7.4" fill="#f99c40"/>
<rect x="672.02" y="1062.3" width="7.4" height="7.4" fill="#f99c40"/>
<rect x="685.9" y="1048.7" width="7.4" height="7.4" fill="#f99c40"/>
<rect x="707.9" y="1082.6" width="7.4" height="7.4" fill="#f99c40"/>
</g>
</svg>
</body></html>
